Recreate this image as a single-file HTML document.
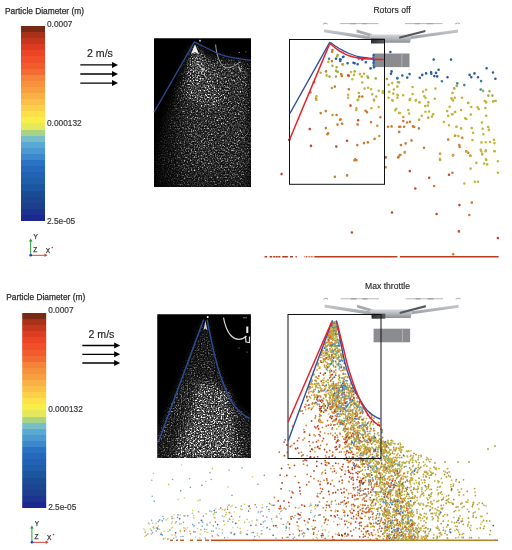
<!DOCTYPE html><html><head><meta charset="utf-8"><style>html,body{margin:0;padding:0;background:#fff;width:512px;height:550px;overflow:hidden}svg{display:block}text{font-family:"Liberation Sans",Arial,sans-serif}.lab{font-size:8.6px;fill:#2a2a2a;stroke:#2a2a2a;stroke-width:0.25px}.num{font-size:8.3px;fill:#3a3a3a;stroke:#3a3a3a;stroke-width:0.2px}.ax{font-size:6.5px;fill:#333;stroke:#333;stroke-width:0.25px}.ms{font-size:10.6px;fill:#1a1a1a;stroke:#1a1a1a;stroke-width:0.15px}.ttl{font-size:8.8px;fill:#2a2a2a;stroke:#2a2a2a;stroke-width:0.15px}</style></head><body><svg width="512" height="550" viewBox="0 0 512 550"><rect width="512" height="550" fill="#fff"/><g transform="translate(0,0)"><text x="5" y="13.7" class="lab" textLength="79" lengthAdjust="spacingAndGlyphs">Particle Diameter (m)</text><defs><linearGradient id="cb1" x1="0" y1="0" x2="0" y2="1"><stop offset="0.00000" stop-color="#7a2a12"/><stop offset="0.03125" stop-color="#7a2a12"/><stop offset="0.03125" stop-color="#a83218"/><stop offset="0.06250" stop-color="#a83218"/><stop offset="0.06250" stop-color="#c4361e"/><stop offset="0.09375" stop-color="#c4361e"/><stop offset="0.09375" stop-color="#dc3c21"/><stop offset="0.12500" stop-color="#dc3c21"/><stop offset="0.12500" stop-color="#ec4425"/><stop offset="0.15625" stop-color="#ec4425"/><stop offset="0.15625" stop-color="#f04f29"/><stop offset="0.18750" stop-color="#f04f29"/><stop offset="0.18750" stop-color="#f25c2d"/><stop offset="0.21875" stop-color="#f25c2d"/><stop offset="0.21875" stop-color="#f36a32"/><stop offset="0.25000" stop-color="#f36a32"/><stop offset="0.25000" stop-color="#f5843a"/><stop offset="0.28125" stop-color="#f5843a"/><stop offset="0.28125" stop-color="#f7923c"/><stop offset="0.31250" stop-color="#f7923c"/><stop offset="0.31250" stop-color="#f8a040"/><stop offset="0.34375" stop-color="#f8a040"/><stop offset="0.34375" stop-color="#f9b044"/><stop offset="0.37500" stop-color="#f9b044"/><stop offset="0.37500" stop-color="#fbc046"/><stop offset="0.40625" stop-color="#fbc046"/><stop offset="0.40625" stop-color="#fcd048"/><stop offset="0.43750" stop-color="#fcd048"/><stop offset="0.43750" stop-color="#fde04a"/><stop offset="0.46875" stop-color="#fde04a"/><stop offset="0.46875" stop-color="#f8ee48"/><stop offset="0.50000" stop-color="#f8ee48"/><stop offset="0.50000" stop-color="#e6e85c"/><stop offset="0.53125" stop-color="#e6e85c"/><stop offset="0.53125" stop-color="#a8d286"/><stop offset="0.56250" stop-color="#a8d286"/><stop offset="0.56250" stop-color="#78bec8"/><stop offset="0.59375" stop-color="#78bec8"/><stop offset="0.59375" stop-color="#5aa8d4"/><stop offset="0.62500" stop-color="#5aa8d4"/><stop offset="0.62500" stop-color="#4c98d0"/><stop offset="0.65625" stop-color="#4c98d0"/><stop offset="0.65625" stop-color="#3c88cc"/><stop offset="0.68750" stop-color="#3c88cc"/><stop offset="0.68750" stop-color="#2a72c4"/><stop offset="0.71875" stop-color="#2a72c4"/><stop offset="0.71875" stop-color="#2668bc"/><stop offset="0.75000" stop-color="#2668bc"/><stop offset="0.75000" stop-color="#2262b4"/><stop offset="0.78125" stop-color="#2262b4"/><stop offset="0.78125" stop-color="#1f5ea8"/><stop offset="0.81250" stop-color="#1f5ea8"/><stop offset="0.81250" stop-color="#1c56a0"/><stop offset="0.84375" stop-color="#1c56a0"/><stop offset="0.84375" stop-color="#1a4c94"/><stop offset="0.87500" stop-color="#1a4c94"/><stop offset="0.87500" stop-color="#1b458e"/><stop offset="0.90625" stop-color="#1b458e"/><stop offset="0.90625" stop-color="#1c3e8c"/><stop offset="0.93750" stop-color="#1c3e8c"/><stop offset="0.93750" stop-color="#1c3490"/><stop offset="0.96875" stop-color="#1c3490"/><stop offset="0.96875" stop-color="#1d2790"/><stop offset="1.00000" stop-color="#1d2790"/></linearGradient></defs><rect x="21" y="26" width="24" height="195" fill="url(#cb1)"/><text x="47" y="27.0" class="num">0.0007</text><text x="47" y="125.6" class="num">0.000132</text><text x="47" y="223.5" class="num">2.5e-05</text><line x1="30.7" y1="255.3" x2="30.7" y2="240" stroke="#2a9a3a" stroke-width="1"/><path d="M28.9 241.5 L30.7 238.5 L32.5 241.5Z" fill="#2a9a3a"/><line x1="30.7" y1="255.3" x2="45.5" y2="255.3" stroke="#d84030" stroke-width="1"/><path d="M44.5 253.6 L47.5 255.3 L44.5 257Z" fill="#d84030"/><circle cx="30.7" cy="255.3" r="1.3" fill="#1a3ad0"/><text x="33.6" y="239.1" class="ax">Y</text><text x="33.2" y="252.2" class="ax">Z</text><text x="45.8" y="252.6" class="ax">X</text><circle cx="52.3" cy="247.6" r="0.8" fill="#d03030"/></g><g transform="translate(1.2,287)"><text x="5" y="13.1" class="lab" textLength="79" lengthAdjust="spacingAndGlyphs">Particle Diameter (m)</text><defs><linearGradient id="cb2" x1="0" y1="0" x2="0" y2="1"><stop offset="0.00000" stop-color="#7a2a12"/><stop offset="0.03125" stop-color="#7a2a12"/><stop offset="0.03125" stop-color="#a83218"/><stop offset="0.06250" stop-color="#a83218"/><stop offset="0.06250" stop-color="#c4361e"/><stop offset="0.09375" stop-color="#c4361e"/><stop offset="0.09375" stop-color="#dc3c21"/><stop offset="0.12500" stop-color="#dc3c21"/><stop offset="0.12500" stop-color="#ec4425"/><stop offset="0.15625" stop-color="#ec4425"/><stop offset="0.15625" stop-color="#f04f29"/><stop offset="0.18750" stop-color="#f04f29"/><stop offset="0.18750" stop-color="#f25c2d"/><stop offset="0.21875" stop-color="#f25c2d"/><stop offset="0.21875" stop-color="#f36a32"/><stop offset="0.25000" stop-color="#f36a32"/><stop offset="0.25000" stop-color="#f5843a"/><stop offset="0.28125" stop-color="#f5843a"/><stop offset="0.28125" stop-color="#f7923c"/><stop offset="0.31250" stop-color="#f7923c"/><stop offset="0.31250" stop-color="#f8a040"/><stop offset="0.34375" stop-color="#f8a040"/><stop offset="0.34375" stop-color="#f9b044"/><stop offset="0.37500" stop-color="#f9b044"/><stop offset="0.37500" stop-color="#fbc046"/><stop offset="0.40625" stop-color="#fbc046"/><stop offset="0.40625" stop-color="#fcd048"/><stop offset="0.43750" stop-color="#fcd048"/><stop offset="0.43750" stop-color="#fde04a"/><stop offset="0.46875" stop-color="#fde04a"/><stop offset="0.46875" stop-color="#f8ee48"/><stop offset="0.50000" stop-color="#f8ee48"/><stop offset="0.50000" stop-color="#e6e85c"/><stop offset="0.53125" stop-color="#e6e85c"/><stop offset="0.53125" stop-color="#a8d286"/><stop offset="0.56250" stop-color="#a8d286"/><stop offset="0.56250" stop-color="#78bec8"/><stop offset="0.59375" stop-color="#78bec8"/><stop offset="0.59375" stop-color="#5aa8d4"/><stop offset="0.62500" stop-color="#5aa8d4"/><stop offset="0.62500" stop-color="#4c98d0"/><stop offset="0.65625" stop-color="#4c98d0"/><stop offset="0.65625" stop-color="#3c88cc"/><stop offset="0.68750" stop-color="#3c88cc"/><stop offset="0.68750" stop-color="#2a72c4"/><stop offset="0.71875" stop-color="#2a72c4"/><stop offset="0.71875" stop-color="#2668bc"/><stop offset="0.75000" stop-color="#2668bc"/><stop offset="0.75000" stop-color="#2262b4"/><stop offset="0.78125" stop-color="#2262b4"/><stop offset="0.78125" stop-color="#1f5ea8"/><stop offset="0.81250" stop-color="#1f5ea8"/><stop offset="0.81250" stop-color="#1c56a0"/><stop offset="0.84375" stop-color="#1c56a0"/><stop offset="0.84375" stop-color="#1a4c94"/><stop offset="0.87500" stop-color="#1a4c94"/><stop offset="0.87500" stop-color="#1b458e"/><stop offset="0.90625" stop-color="#1b458e"/><stop offset="0.90625" stop-color="#1c3e8c"/><stop offset="0.93750" stop-color="#1c3e8c"/><stop offset="0.93750" stop-color="#1c3490"/><stop offset="0.96875" stop-color="#1c3490"/><stop offset="0.96875" stop-color="#1d2790"/><stop offset="1.00000" stop-color="#1d2790"/></linearGradient></defs><rect x="21" y="26" width="24" height="195" fill="url(#cb2)"/><text x="47" y="26.0" class="num">0.0007</text><text x="47" y="124.6" class="num">0.000132</text><text x="47" y="222.5" class="num">2.5e-05</text><line x1="30.7" y1="255.3" x2="30.7" y2="240" stroke="#2a9a3a" stroke-width="1"/><path d="M28.9 241.5 L30.7 238.5 L32.5 241.5Z" fill="#2a9a3a"/><line x1="30.7" y1="255.3" x2="45.5" y2="255.3" stroke="#d84030" stroke-width="1"/><path d="M44.5 253.6 L47.5 255.3 L44.5 257Z" fill="#d84030"/><circle cx="30.7" cy="255.3" r="1.3" fill="#1a3ad0"/><text x="33.6" y="239.1" class="ax">Y</text><text x="33.2" y="252.2" class="ax">Z</text><text x="45.8" y="252.6" class="ax">X</text><circle cx="52.3" cy="247.6" r="0.8" fill="#d03030"/></g><text x="87" y="57" class="ms">2 m/s</text><line x1="80.3" y1="64.9" x2="113" y2="64.9" stroke="#000" stroke-width="1.3"/><path d="M112 61.900000000000006 L118 64.9 L112 67.9Z" fill="#000"/><line x1="80.3" y1="74" x2="113" y2="74" stroke="#000" stroke-width="1.3"/><path d="M112 71 L118 74 L112 77Z" fill="#000"/><line x1="80.3" y1="83.1" x2="113" y2="83.1" stroke="#000" stroke-width="1.3"/><path d="M112 80.1 L118 83.1 L112 86.1Z" fill="#000"/><text x="88.5" y="337.5" class="ms">2 m/s</text><line x1="82.3" y1="345.5" x2="115.2" y2="345.5" stroke="#000" stroke-width="1.3"/><path d="M114.2 342.5 L120.2 345.5 L114.2 348.5Z" fill="#000"/><line x1="82.3" y1="354.3" x2="115.2" y2="354.3" stroke="#000" stroke-width="1.3"/><path d="M114.2 351.3 L120.2 354.3 L114.2 357.3Z" fill="#000"/><line x1="82.3" y1="363" x2="115.2" y2="363" stroke="#000" stroke-width="1.3"/><path d="M114.2 360 L120.2 363 L114.2 366Z" fill="#000"/><text x="373.4" y="12.6" class="ttl" textLength="37.2" lengthAdjust="spacingAndGlyphs">Rotors off</text><g transform="translate(0,0)"><defs><linearGradient id="hubg0" x1="0" y1="0" x2="0" y2="1"><stop offset="0" stop-color="#d4d8dc"/><stop offset="0.5" stop-color="#b4b8bc"/><stop offset="1" stop-color="#8c9094"/></linearGradient><linearGradient id="armg0" x1="0" y1="0" x2="0" y2="1"><stop offset="0" stop-color="#c8ccd0"/><stop offset="1" stop-color="#9a9ea2"/></linearGradient><linearGradient id="shd0" x1="0" y1="0" x2="1" y2="0"><stop offset="0" stop-color="#2a2c2e"/><stop offset="1" stop-color="#5a5c60"/></linearGradient></defs><path d="M340 23.6H378.4M405 23.6H442.5" stroke="#b4b8bc" stroke-width="1"/><path d="M350 23.6h6M362 23.6h5M415 23.6h5M427 23.6h6" stroke="#a4a8ac" stroke-width="1.4"/><path d="M323 24.2l2-1.2l2.5 1" stroke="#888" stroke-width="0.8" fill="none"/><path d="M455 24l2.5-1l2.5 0.6" stroke="#999" stroke-width="0.8" fill="none"/><path d="M324 29.2L372 36.5L372 40L324 32.2Z" fill="url(#armg0)"/><path d="M356.5 29.5L372 34L372 37L356.5 32.5Z" fill="#a8acb0"/><path d="M411 36L458 29.5L458 32.5L411 39Z" fill="url(#armg0)"/><path d="M369.5 34.4H412L410 42.7H371.5Z" fill="url(#hubg0)"/><path d="M371 38.5H384.8V43.5H371Z" fill="url(#shd0)"/><path d="M400 37.5L424.5 31.2" stroke="#55585c" stroke-width="2.2" stroke-linecap="round"/><rect x="373" y="53.5" width="36.5" height="13.6" fill="#8a8c90"/><rect x="401.3" y="53.5" width="1" height="13.6" fill="#b0b2b6"/></g><path stroke="#cc7a30" stroke-width="2.60" stroke-linecap="round" fill="none" d="M332.5 50.0h0M332.1 51.7h0M331.9 61.1h0M326.0 71.4h0M341.3 74.2h0M341.8 75.7h0M334.8 86.6h0M310.5 92.5h0M316.0 98.6h0M341.2 74.3h0M341.8 76.0h0M348.8 76.0h0M348.8 89.3h0M359.3 96.6h0M362.3 96.6h0M374.0 99.8h0M320.7 113.1h0M325.8 111.1h0M336.6 115.0h0M340.1 119.7h0M337.5 124.6h0M342.2 123.7h0M325.8 128.1h0M327.4 134.2h0M328.1 133.4h0M365.5 110.8h0M367.0 112.3h0M340.6 119.3h0M342.1 123.7h0M357.6 124.4h0M371.0 122.3h0M380.4 117.3h0M388.0 126.7h0M391.6 126.4h0M399.2 126.7h0M399.2 131.9h0M357.3 145.1h0M364.0 143.1h0M367.9 142.4h0M374.6 138.9h0M355.2 159.2h0M398.0 157.4h0M403.3 121.1h0M407.1 122.5h0M410.0 121.7h0M400.3 126.7h0M404.1 126.7h0M413.0 126.4h0M414.2 127.0h0M418.9 128.4h0M399.2 131.9h0M448.2 139.6h0M411.5 140.4h0M405.6 143.4h0M400.9 145.1h0M424.0 147.8h0M404.8 152.5h0M399.8 155.1h0M440.0 153.7h0M453.1 155.1h0M440.0 159.2h0M462.3 137.7h0M459.3 145.1h0M459.6 146.9h0M466.3 151.3h0M468.2 152.7h0M470.2 155.7h0M452.9 155.3h0M354.5 160.2h0M356.5 160.2h0M334.9 176.7h0M347.1 175.4h0M385.7 167.3h0M398.6 156.9h0M400.4 155.0h0M434.1 186.0h0M452.5 172.8h0M471.8 202.6h0M469.3 215.0h0M453.2 254.2h0"/><path stroke="#9cae46" stroke-width="2.60" stroke-linecap="round" fill="none" d="M337.7 55.0h0M337.2 56.4h0M332.5 65.8h0M336.6 67.2h0M336.0 70.7h0M337.7 71.9h0M329.5 76.6h0M336.0 76.6h0M331.9 88.0h0M354.6 71.4h0M367.5 76.6h0M368.1 77.8h0M375.7 78.4h0M386.9 79.0h0M398.0 82.3h0M399.1 82.5h0M454.2 88.4h0M456.7 86.0h0M454.3 88.6h0M483.1 90.9h0M489.5 91.3h0M488.3 95.6h0M492.4 95.6h0"/><path stroke="#2a5aa2" stroke-width="2.60" stroke-linecap="round" fill="none" d="M343.0 57.0h0M336.0 58.8h0M340.0 59.3h0M340.3 60.9h0M343.5 56.7h0M340.6 59.6h0M347.6 63.2h0M353.5 62.8h0M354.6 63.2h0M357.6 64.3h0M358.8 58.5h0M362.3 59.6h0M365.8 62.3h0M370.5 68.4h0M390.4 52.0h0M391.6 71.4h0M391.0 73.7h0M433.7 59.6h0M451.0 59.6h0M397.3 78.0h0M402.3 75.5h0M407.3 77.6h0M409.6 74.1h0M419.8 77.8h0M422.2 74.9h0M426.1 73.4h0M431.1 72.2h0M431.3 73.7h0M436.0 72.9h0M438.6 69.8h0M434.3 76.1h0M437.2 76.4h0M447.5 77.2h0M486.6 68.2h0M493.0 72.5h0M495.4 78.8h0M469.6 74.9h0M474.5 73.4h0M471.3 77.2h0M478.0 77.2h0M373.6 55.2h0M373.8 60.2h0M373.5 62.8h0M374.0 67.2h0"/><path stroke="#3a80a0" stroke-width="2.60" stroke-linecap="round" fill="none" d="M329.0 58.8h0M397.4 78.4h0M441.9 81.3h0M481.1 81.1h0M457.3 83.4h0M464.3 85.1h0M480.7 89.5h0M373.4 57.6h0M373.7 65.3h0"/><path stroke="#c0b63a" stroke-width="2.60" stroke-linecap="round" fill="none" d="M328.4 61.7h0M320.7 72.8h0M326.6 75.4h0M316.6 96.3h0M342.3 64.3h0M351.1 72.0h0M354.0 74.9h0M352.3 79.3h0M359.9 74.1h0M361.7 76.6h0M364.0 73.7h0M362.3 82.5h0M364.6 88.6h0M368.1 87.8h0M371.0 89.3h0M378.7 90.7h0M382.8 91.3h0M382.8 93.0h0M348.2 94.8h0M348.2 97.7h0M358.8 93.0h0M358.2 99.5h0M372.2 94.2h0M376.3 96.6h0M388.6 84.8h0M392.2 83.1h0M397.4 86.6h0M393.9 89.5h0M389.2 91.9h0M393.3 93.6h0M397.4 94.8h0M388.6 97.7h0M392.2 100.0h0M397.4 97.7h0M397.3 86.6h0M412.6 87.0h0M435.4 88.6h0M426.1 89.8h0M423.1 91.6h0M397.9 95.2h0M403.2 95.2h0M412.6 94.0h0M424.3 96.3h0M425.5 97.7h0M410.2 98.7h0M409.6 100.1h0M416.1 100.1h0M419.6 102.4h0M428.4 102.4h0M434.8 98.7h0M452.4 93.0h0M451.3 98.3h0M453.0 100.0h0M452.6 93.0h0M454.9 97.7h0M462.0 97.7h0M452.6 100.0h0M468.4 103.0h0M484.8 101.0h0M486.0 102.4h0M493.0 101.5h0M495.6 100.7h0M316.4 100.0h0M356.4 108.4h0M356.2 110.0h0M371.4 108.2h0M378.7 107.0h0M374.0 100.6h0M357.6 100.2h0M392.7 100.6h0M395.1 110.3h0M396.3 108.8h0M399.2 112.9h0M409.7 100.2h0M415.6 100.6h0M419.3 102.3h0M428.2 102.3h0M425.2 106.1h0M427.9 105.6h0M408.3 110.0h0M400.1 113.1h0M409.1 113.5h0M425.5 111.7h0M429.1 111.5h0M433.2 114.3h0M432.0 116.6h0M421.7 115.8h0M453.1 100.6h0M449.6 106.8h0M447.2 111.1h0M455.2 112.0h0M451.9 114.3h0M448.2 115.8h0M443.9 122.0h0M449.0 125.2h0M456.4 126.7h0M468.2 102.9h0M485.4 101.2h0M486.2 102.3h0M493.3 101.4h0M495.6 100.9h0M471.3 107.0h0M477.5 107.3h0M478.7 109.1h0M485.4 108.0h0M461.1 110.0h0M454.9 112.0h0M452.6 114.3h0M470.8 114.6h0M486.2 115.8h0M465.1 118.2h0M466.3 119.0h0M481.9 122.5h0M456.5 126.7h0M461.1 128.4h0M471.7 128.1h0M482.7 128.7h0M488.3 127.0h0M488.9 129.9h0M473.1 132.8h0M483.4 134.2h0M454.9 135.7h0M458.4 136.1h0M472.5 140.1h0M481.5 142.4h0M485.8 142.2h0M490.1 142.0h0M494.0 139.8h0M494.4 143.1h0M480.7 149.8h0M485.8 150.2h0M494.8 151.3h0M482.2 153.9h0M486.0 159.2h0M440.1 153.7h0M440.1 159.9h0M453.2 155.5h0M466.9 152.0h0M470.6 155.5h0M476.3 162.9h0M470.6 168.6h0M464.4 183.5h0M474.8 181.8h0M478.0 181.8h0M481.3 151.2h0M485.5 151.2h0M482.2 154.5h0M486.2 159.9h0M484.2 163.6h0M487.2 164.4h0M494.2 151.2h0M497.9 161.2h0M497.9 172.8h0"/><path stroke="#cc9a36" stroke-width="2.60" stroke-linecap="round" fill="none" d="M343.0 64.4h0M332.5 115.0h0M377.3 125.8h0M379.3 136.1h0M428.2 117.6h0M419.1 119.7h0M403.3 117.0h0M455.2 135.7h0M404.8 152.0h0"/><path stroke="#c84a28" stroke-width="2.60" stroke-linecap="round" fill="none" d="M314.0 82.2h0M348.2 75.2h0M309.8 129.1h0M311.0 145.9h0M336.3 146.6h0M350.5 105.6h0M358.2 120.2h0M347.0 140.8h0M385.7 157.4h0M281.6 174.1h0M351.9 232.5h0M409.8 171.1h0M415.3 188.5h0M429.2 177.8h0M449.0 174.8h0M392.0 212.5h0M436.6 214.0h0M459.4 205.1h0M458.9 231.4h0M497.9 238.1h0"/><path stroke="#902818" stroke-width="2.60" stroke-linecap="round" fill="none" d="M289.3 139.8h0"/><path d="M264.6 256.8H267.1M269.6 256.8H272.2M273.2 256.8H275.2M275.7 256.8H277.8M278.3 256.8H280.3M282.3 256.8H287.9M290 256.8H293M295.5 256.8H296.8" stroke="#b83a1e" stroke-width="1.5"/><path d="M304.4 256.8H314.6" stroke="#c86040" stroke-width="1.5" stroke-dasharray="1 0.6"/><path d="M314.6 256.8H397.4M399.9 256.8H498.6" stroke="#b83c1e" stroke-width="1.6"/><rect x="289.5" y="39.5" width="95" height="144.8" fill="none" stroke="#111" stroke-width="1"/><path d="M289.8 113.6L329.6 42.6L331.4 43C332.2 43.6 334.7 45.6 336.5 46.8C338.3 48.0 340.2 49.1 342.3 50.2C344.4 51.3 346.2 52.4 349.2 53.5C352.2 54.6 356.2 56.2 360.1 57.0C364.0 57.8 370.2 58.1 372.4 58.4C374.6 58.6 373.3 58.5 373.5 58.5" fill="none" stroke="#3150a0" stroke-width="1.3"/><path d="M289.7 139.3L329.7 43.6L331.4 44.7C332.2 45.4 334.7 47.6 336.5 48.9C338.3 50.2 340.2 51.4 342.3 52.5C344.4 53.6 346.2 54.8 349.2 55.8C352.2 56.8 356.7 57.8 360.1 58.3C363.5 58.8 365.8 58.9 369.7 59.1C373.6 59.3 381.3 59.5 383.6 59.6" fill="none" stroke="#e82228" stroke-width="1.5"/><text x="365" y="289" class="ttl" textLength="45" lengthAdjust="spacingAndGlyphs">Max throttle</text><g transform="translate(0.6,275.2)"><defs><linearGradient id="hubg275" x1="0" y1="0" x2="0" y2="1"><stop offset="0" stop-color="#d4d8dc"/><stop offset="0.5" stop-color="#b4b8bc"/><stop offset="1" stop-color="#8c9094"/></linearGradient><linearGradient id="armg275" x1="0" y1="0" x2="0" y2="1"><stop offset="0" stop-color="#c8ccd0"/><stop offset="1" stop-color="#9a9ea2"/></linearGradient><linearGradient id="shd275" x1="0" y1="0" x2="1" y2="0"><stop offset="0" stop-color="#2a2c2e"/><stop offset="1" stop-color="#5a5c60"/></linearGradient></defs><path d="M340 23.6H378.4M405 23.6H442.5" stroke="#b4b8bc" stroke-width="1"/><path d="M350 23.6h6M362 23.6h5M415 23.6h5M427 23.6h6" stroke="#a4a8ac" stroke-width="1.4"/><path d="M323 24.2l2-1.2l2.5 1" stroke="#888" stroke-width="0.8" fill="none"/><path d="M455 24l2.5-1l2.5 0.6" stroke="#999" stroke-width="0.8" fill="none"/><path d="M324 29.2L372 36.5L372 40L324 32.2Z" fill="url(#armg275)"/><path d="M356.5 29.5L372 34L372 37L356.5 32.5Z" fill="#a8acb0"/><path d="M411 36L458 29.5L458 32.5L411 39Z" fill="url(#armg275)"/><path d="M369.5 34.4H412L410 42.7H371.5Z" fill="url(#hubg275)"/><path d="M371 38.5H384.8V43.5H371Z" fill="url(#shd275)"/><path d="M400 37.5L424.5 31.2" stroke="#55585c" stroke-width="2.2" stroke-linecap="round"/><rect x="373" y="53.5" width="36.5" height="13.6" fill="#8a8c90"/><rect x="401.3" y="53.5" width="1" height="13.6" fill="#b0b2b6"/></g><path stroke="#d89050" stroke-width="1.60" stroke-linecap="round" fill="none" d="M198.6 511.9h0M301.7 530.8h0M335.2 511.7h0M227.6 507.0h0M318.5 531.3h0M147.8 534.1h0M163.4 539.0h0M179.8 524.1h0M250.1 508.6h0M327.2 524.8h0M230.0 513.0h0M335.8 510.2h0M234.2 534.8h0M218.5 535.8h0M303.6 536.8h0"/><path stroke="#6ea4d0" stroke-width="1.60" stroke-linecap="round" fill="none" d="M294.6 537.2h0M207.0 525.1h0M295.0 515.5h0M202.3 526.3h0M228.0 521.2h0M269.8 529.4h0M302.2 533.9h0M159.8 519.9h0M163.6 518.7h0M205.3 538.1h0M198.9 522.9h0M272.7 505.2h0M235.8 507.3h0M273.4 535.2h0M209.9 511.1h0M145.3 532.2h0M172.0 518.6h0M254.7 536.5h0M266.8 517.1h0M256.9 520.0h0M298.3 518.9h0M162.9 516.5h0M258.2 512.0h0M266.7 528.0h0M263.5 521.9h0M222.5 533.0h0M152.5 532.6h0M340.4 504.3h0M286.1 526.2h0M216.1 512.4h0M321.7 537.3h0M210.0 472.7h0M202.0 485.5h0M264.3 475.4h0M289.5 490.7h0M201.8 485.4h0"/><path stroke="#70b4bc" stroke-width="1.60" stroke-linecap="round" fill="none" d="M293.3 538.6h0M260.4 512.0h0M331.4 504.4h0M159.3 520.3h0M217.3 534.7h0M183.0 536.5h0M216.2 528.3h0M222.3 516.0h0M157.6 527.9h0M151.6 520.3h0M210.1 522.2h0M232.7 521.9h0M280.8 511.6h0M153.3 527.6h0M242.0 509.5h0M314.4 516.7h0M293.8 517.8h0M310.3 505.1h0M286.6 527.2h0M261.8 530.7h0M279.9 509.2h0M248.9 506.6h0M211.6 531.1h0M173.7 538.3h0M239.7 516.7h0M318.1 504.9h0M292.0 491.4h0M229.1 470.1h0M172.6 479.5h0M242.1 467.9h0M152.2 496.2h0M211.2 479.5h0M189.5 478.8h0"/><path stroke="#80b0d4" stroke-width="1.60" stroke-linecap="round" fill="none" d="M261.9 511.3h0M338.4 517.8h0M148.5 523.3h0M181.0 536.7h0M256.5 507.3h0M311.4 505.3h0M276.1 538.2h0M329.2 505.5h0M176.0 537.1h0M151.6 530.4h0M265.0 521.0h0M301.0 512.5h0M322.9 534.0h0M172.1 516.8h0M280.5 505.6h0M336.4 504.3h0M312.6 528.8h0M335.8 534.1h0M200.0 500.1h0M151.8 480.3h0"/><path stroke="#ccc058" stroke-width="1.60" stroke-linecap="round" fill="none" d="M213.9 517.2h0M195.5 537.3h0M224.1 516.7h0M274.7 505.1h0M219.2 528.8h0M175.2 535.1h0M277.0 517.4h0M230.1 519.6h0M321.8 526.1h0M179.5 519.2h0M153.5 526.7h0M214.8 517.9h0M225.2 509.6h0M206.1 513.9h0M334.0 515.5h0M331.2 502.8h0M168.1 531.4h0M161.2 532.9h0M261.9 508.0h0M317.3 538.8h0M325.1 521.8h0M305.4 525.0h0M307.5 521.6h0M257.4 533.3h0M152.7 523.3h0M298.1 529.1h0M172.1 522.1h0M175.2 523.3h0M193.9 517.9h0M311.2 510.2h0M224.7 510.3h0M167.8 518.5h0M172.1 534.9h0M222.5 509.7h0M193.7 515.3h0M299.7 534.2h0M262.7 507.7h0M313.2 538.9h0M224.4 524.8h0M226.2 512.6h0M301.1 517.4h0M201.9 521.0h0M333.6 521.6h0M279.5 513.7h0M311.9 526.2h0M335.5 510.3h0M315.0 515.4h0M247.0 519.4h0M180.7 531.7h0M315.1 508.8h0M183.9 527.9h0M326.3 504.8h0M213.6 514.5h0M180.1 530.4h0M317.1 534.9h0M200.1 534.1h0M304.3 505.6h0M231.0 506.8h0M322.7 530.3h0M329.0 532.1h0M261.6 524.6h0M151.4 533.9h0M153.4 473.2h0M205.7 481.5h0M212.4 468.6h0M168.6 484.4h0"/><path stroke="#d8cc70" stroke-width="1.60" stroke-linecap="round" fill="none" d="M298.3 508.2h0M261.3 533.9h0M214.1 513.7h0M314.5 506.5h0M339.7 518.9h0M233.0 519.2h0M269.1 511.4h0M263.5 526.7h0M158.4 525.9h0M232.2 505.8h0M316.5 506.0h0M219.0 509.2h0M285.8 530.5h0M249.2 522.1h0M281.9 510.4h0M153.9 528.6h0M227.9 537.5h0M251.3 533.0h0M254.1 539.2h0M173.9 514.8h0M149.5 524.3h0M238.9 520.5h0M143.8 529.0h0M262.4 504.8h0M247.6 530.5h0M215.8 508.9h0M207.8 532.3h0M298.8 526.6h0M186.1 529.6h0M240.7 531.6h0M181.2 523.6h0M272.2 521.5h0M165.1 538.4h0M172.7 527.3h0M199.5 538.0h0M185.2 528.2h0M236.8 523.3h0M289.5 529.8h0M233.0 527.8h0M173.9 518.3h0M209.9 523.0h0M234.4 512.0h0M277.2 527.6h0M310.8 503.2h0M164.2 531.2h0M284.8 476.5h0M178.1 499.6h0M198.1 500.6h0M184.4 498.0h0M181.6 465.0h0M228.0 486.9h0M252.4 476.7h0"/><path stroke="#d48040" stroke-width="1.60" stroke-linecap="round" fill="none" d="M338.7 533.1h0M190.5 533.8h0M337.8 534.5h0M229.4 519.1h0M326.5 507.6h0M229.2 512.2h0M249.2 506.3h0M344.5 510.8h0M276.8 516.0h0M341.9 539.5h0M297.9 525.7h0M279.2 508.5h0M289.3 528.0h0M293.2 534.1h0M146.2 535.2h0M200.9 529.7h0M283.2 524.5h0M325.5 510.5h0M156.2 531.0h0M303.4 532.9h0M315.3 520.6h0M177.6 517.6h0"/><path stroke="#5c98c8" stroke-width="1.60" stroke-linecap="round" fill="none" d="M289.2 506.1h0M310.7 512.3h0M202.7 522.3h0M213.2 531.3h0M162.2 520.9h0M156.3 528.0h0M241.3 506.0h0M223.8 521.1h0M192.7 524.6h0M318.6 515.2h0M178.0 514.9h0M169.9 530.0h0M213.4 525.8h0M187.8 515.7h0M204.6 529.3h0M229.0 505.1h0M271.6 519.0h0M203.4 516.1h0M304.6 533.3h0M344.7 516.0h0M328.0 505.2h0M281.1 518.9h0M158.3 521.6h0M266.8 506.7h0M167.7 539.0h0M183.4 522.3h0M224.6 537.8h0M269.5 503.6h0M194.0 525.9h0M162.3 534.9h0M267.3 527.5h0M184.4 515.8h0M273.7 505.4h0M195.1 532.0h0M176.1 521.9h0M232.0 495.3h0M154.2 501.3h0M180.7 490.8h0M190.4 487.3h0M257.9 484.2h0"/><path stroke="#d4c860" stroke-width="1.60" stroke-linecap="round" fill="none" d="M204.7 531.8h0M270.8 504.4h0M237.5 527.4h0M187.5 527.7h0M240.6 508.8h0M297.3 513.3h0M325.1 529.5h0M180.2 515.1h0M330.7 510.5h0M316.3 537.6h0M257.4 535.4h0M241.2 533.0h0M192.6 510.5h0M344.8 536.8h0M144.9 536.5h0M271.8 505.8h0M246.3 534.3h0M233.8 534.1h0M206.7 529.6h0M286.8 523.7h0M225.8 514.8h0M156.1 523.4h0M184.0 516.0h0M276.2 517.3h0M171.8 528.0h0M145.5 532.2h0M150.3 529.1h0M185.3 515.5h0M240.1 528.4h0M207.2 532.5h0M343.9 505.0h0M309.6 506.4h0M298.4 529.7h0M171.5 523.8h0M171.9 516.7h0M244.5 504.3h0M144.9 530.0h0M339.8 524.2h0M189.9 531.4h0M325.6 530.7h0M338.0 511.1h0M299.5 507.8h0M197.4 528.5h0M252.1 521.0h0M284.6 507.3h0"/><path stroke="#c85a3a" stroke-width="1.60" stroke-linecap="round" fill="none" d="M201.6 520.5h0M292.1 516.4h0M212.3 536.0h0M279.0 508.5h0M220.7 508.0h0M227.6 509.3h0M184.5 530.9h0M284.1 508.2h0M263.2 516.0h0M256.0 525.1h0M255.1 504.7h0M299.6 518.8h0M193.7 531.8h0M215.4 522.1h0"/><path stroke="#3c70b4" stroke-width="1.60" stroke-linecap="round" fill="none" d="M287.9 537.3h0M308.2 529.4h0M201.3 520.2h0M315.6 505.1h0M253.1 532.5h0M235.6 523.4h0M248.6 511.1h0M285.9 509.0h0M250.9 525.4h0M260.7 524.2h0M315.5 527.5h0M247.2 534.4h0M157.8 529.1h0M175.7 532.9h0M231.6 516.3h0M231.1 532.9h0M161.0 534.4h0M214.3 510.6h0M286.2 528.1h0M269.0 509.5h0M234.7 534.1h0M273.1 535.3h0M307.4 528.7h0M249.2 506.0h0M217.6 524.6h0M179.7 518.6h0"/><path stroke="#a8c870" stroke-width="1.60" stroke-linecap="round" fill="none" d="M222.3 529.6h0M211.5 511.6h0M286.2 537.5h0M192.4 513.2h0M214.5 512.5h0M168.1 538.7h0M159.4 529.2h0M314.6 527.4h0M256.7 520.0h0M304.0 535.2h0M207.2 524.1h0M328.1 536.0h0M261.8 533.9h0M240.3 533.4h0M225.7 514.6h0M166.1 519.9h0M244.6 522.4h0M259.2 537.1h0"/><path stroke="#c85430" stroke-width="1.76" stroke-linecap="round" fill="none" d="M321.2 354.9h0M341.7 385.4h0M326.0 357.9h0M321.9 390.7h0M337.7 390.7h0M342.8 392.2h0M322.9 350.4h0M329.2 403.7h0M334.1 377.3h0M332.4 332.1h0M331.8 352.1h0M319.5 391.9h0M326.3 410.4h0M331.3 332.1h0M335.3 342.8h0M331.5 333.5h0M332.3 325.8h0M342.9 370.2h0M333.5 350.7h0M331.9 330.8h0M332.0 351.5h0M335.6 325.9h0M332.4 356.9h0M315.2 380.4h0M333.5 356.9h0M319.5 408.6h0M311.4 409.4h0M385.8 526.6h0M374.5 484.5h0M374.3 440.7h0M397.1 528.4h0M361.8 441.7h0M376.1 522.8h0M364.4 424.6h0M379.1 462.8h0M366.7 495.9h0M404.2 498.9h0M368.8 481.5h0M381.6 442.8h0M346.4 389.1h0M339.2 390.8h0M346.4 442.7h0M382.5 477.5h0M407.1 480.2h0M358.8 449.7h0M340.5 409.6h0M339.3 397.2h0M391.0 465.8h0M413.6 530.8h0M330.9 415.9h0M388.9 518.2h0M355.8 411.0h0M358.2 422.0h0M380.4 482.7h0M359.6 403.5h0M354.1 403.5h0M401.6 532.0h0M395.7 511.1h0M390.0 471.4h0M384.6 483.5h0M366.8 442.1h0M385.9 501.0h0M380.6 475.2h0M388.9 515.6h0M342.0 394.3h0M320.3 431.8h0M350.2 447.9h0M285.1 439.8h0M361.4 525.8h0M352.7 473.6h0M352.3 467.7h0M368.7 511.8h0M319.0 421.3h0M347.1 446.5h0M360.5 482.8h0M348.9 472.1h0M352.5 495.5h0M345.3 503.8h0M350.7 531.2h0M360.2 517.3h0M344.7 459.1h0M372.7 535.4h0M365.1 536.2h0M327.5 420.6h0M335.5 437.1h0M353.1 484.4h0M370.2 497.6h0M368.6 493.5h0M359.2 493.3h0M356.6 498.9h0M372.5 514.1h0M355.8 465.7h0M327.5 483.6h0M355.7 527.8h0M314.7 426.7h0M317.8 446.4h0M334.9 439.2h0M317.7 505.6h0M366.4 501.1h0M332.4 427.9h0M284.1 442.1h0M329.7 450.4h0M363.4 537.1h0M303.0 455.0h0M351.4 478.9h0M355.6 522.0h0M382.7 534.0h0M343.2 464.3h0M289.8 534.6h0M322.2 533.7h0M339.3 481.4h0M329.1 505.4h0M312.8 403.0h0M298.2 513.9h0M290.3 446.6h0M341.1 502.3h0M357.5 486.9h0M300.5 493.8h0M328.3 425.2h0M279.3 452.1h0M312.4 449.3h0M350.1 437.2h0M320.9 415.7h0M297.1 522.2h0M334.7 437.1h0M330.7 424.4h0M301.9 505.0h0M345.4 437.4h0M351.5 518.1h0M295.4 448.3h0M317.9 400.9h0M363.3 534.3h0M377.7 509.0h0M326.2 426.1h0M363.3 490.6h0M323.6 498.1h0M320.1 435.9h0M321.7 402.3h0M310.8 476.3h0"/><path stroke="#b09c38" stroke-width="1.76" stroke-linecap="round" fill="none" d="M353.8 397.2h0M319.6 385.3h0M331.8 342.4h0M331.2 346.2h0M330.0 364.9h0M330.5 337.2h0M318.6 363.5h0M344.7 384.9h0M328.2 359.4h0M333.1 323.0h0M328.3 366.5h0M322.1 352.5h0M332.9 362.8h0M333.6 323.4h0M329.1 334.7h0M335.1 322.0h0M342.1 356.5h0M346.5 386.8h0M327.9 379.9h0M335.0 354.2h0M329.8 336.0h0M329.7 370.7h0M327.0 352.2h0M331.5 385.7h0M316.4 395.4h0M313.4 390.9h0M333.5 385.2h0M331.3 338.2h0M344.0 383.0h0M356.9 409.1h0M331.3 356.4h0M332.3 325.0h0M324.5 366.8h0M336.4 342.2h0M310.9 387.8h0M338.6 408.0h0M332.7 323.4h0M326.4 400.1h0M308.4 399.8h0M323.1 362.4h0M340.8 350.3h0M330.0 387.1h0M326.0 342.7h0M334.9 349.2h0M332.9 339.4h0M334.5 327.7h0M328.2 344.6h0M332.2 385.5h0M333.4 330.3h0M343.8 374.0h0M334.2 333.0h0M333.7 385.7h0M323.9 382.6h0M335.7 330.7h0M332.8 322.8h0M316.0 385.7h0M329.0 333.8h0M351.1 402.1h0M332.2 326.3h0M337.7 411.2h0M335.1 340.7h0M333.3 381.6h0M333.9 325.5h0M338.1 399.1h0M352.4 400.7h0M330.6 351.9h0M349.0 395.9h0M333.0 330.0h0M340.7 355.5h0M336.0 331.2h0M337.4 358.2h0M331.0 335.4h0M329.6 342.8h0M300.8 410.8h0M332.5 332.3h0M341.0 370.8h0M349.4 403.3h0M332.3 344.9h0M350.3 400.2h0M354.2 400.5h0M323.8 361.1h0M328.7 355.6h0M319.3 404.5h0M312.0 383.8h0M323.6 353.4h0M325.3 409.7h0M410.9 515.8h0M358.0 430.9h0M364.9 432.6h0M379.7 458.7h0M406.7 537.0h0M373.9 487.2h0M413.5 504.6h0M406.2 491.0h0M362.6 463.4h0M346.4 410.9h0M386.1 452.6h0M372.0 511.8h0M379.5 485.3h0M402.6 527.2h0M382.4 430.0h0M360.6 457.6h0M384.3 512.5h0M356.9 453.1h0M329.8 417.2h0M333.7 388.2h0M370.1 449.5h0M386.2 501.7h0M386.0 445.0h0M369.5 436.6h0M370.0 438.8h0M380.2 504.5h0M367.3 449.0h0M373.3 458.4h0M401.6 485.2h0M351.2 444.6h0M388.9 510.8h0M368.2 491.6h0M348.8 438.1h0M402.8 533.6h0M391.7 500.4h0M386.6 483.5h0M403.0 537.5h0M381.4 499.1h0M375.9 472.1h0M384.8 478.7h0M363.9 408.2h0M362.2 441.6h0M353.8 437.6h0M379.1 462.9h0M407.1 523.9h0M374.3 526.8h0M390.7 491.4h0M408.6 516.9h0M418.4 536.7h0M388.5 520.6h0M378.9 517.5h0M382.0 430.9h0M349.9 423.8h0M397.9 505.0h0M388.6 483.6h0M369.2 463.6h0M402.7 528.6h0M375.3 504.9h0M371.9 490.3h0M349.2 446.9h0M378.9 435.5h0M344.2 422.8h0M413.9 523.3h0M354.0 439.8h0M377.0 471.2h0M349.3 385.6h0M335.5 409.3h0M370.0 413.6h0M384.3 508.7h0M350.1 432.7h0M369.3 483.6h0M367.3 476.2h0M389.2 526.6h0M382.9 455.6h0M388.1 482.6h0M413.8 515.1h0M389.1 512.1h0M373.0 500.5h0M390.9 516.3h0M377.8 454.9h0M400.6 522.6h0M336.6 395.2h0M373.3 437.3h0M357.3 456.2h0M366.7 458.0h0M343.2 430.1h0M373.6 523.3h0M393.7 501.1h0M343.8 393.0h0M405.1 537.9h0M362.8 505.4h0M383.1 533.6h0M344.5 442.9h0M348.4 438.2h0M394.5 514.7h0M401.1 506.5h0M370.6 454.7h0M338.9 387.8h0M379.4 477.8h0M406.8 539.1h0M359.4 402.7h0M382.8 479.9h0M372.1 447.4h0M403.3 482.6h0M369.4 482.3h0M340.2 390.6h0M346.6 392.3h0M355.3 458.4h0M391.8 489.8h0M354.7 438.7h0M385.3 467.6h0M392.3 517.6h0M382.4 498.9h0M372.5 454.3h0M372.5 526.1h0M385.6 469.4h0M358.2 435.5h0M360.0 433.7h0M379.8 468.9h0M390.3 494.7h0M339.4 407.5h0M410.5 529.3h0M402.6 524.5h0M374.7 472.1h0M394.3 462.1h0M347.8 416.5h0M367.9 526.3h0M330.0 398.1h0M411.9 520.2h0M379.4 491.8h0M364.2 448.9h0M396.6 492.8h0M365.8 489.0h0M398.1 539.3h0M401.0 492.7h0M335.7 403.7h0M390.2 479.4h0M334.2 405.7h0M409.4 504.3h0M337.4 423.2h0M387.2 492.1h0M402.7 520.3h0M387.6 459.6h0M352.1 387.6h0M357.3 439.3h0M396.5 510.3h0M409.3 512.5h0M406.4 496.3h0M398.5 499.3h0M340.3 386.4h0M407.2 514.8h0M406.1 515.9h0M345.4 388.4h0M373.1 438.2h0M396.5 470.2h0M380.0 536.4h0M402.9 487.3h0M344.5 431.7h0M394.3 464.7h0M337.8 392.0h0M390.2 513.7h0M349.2 432.6h0M408.8 494.3h0M366.6 446.8h0M376.6 491.9h0M381.6 510.3h0M383.9 451.7h0M348.7 393.1h0M361.3 464.2h0M381.1 460.5h0M378.8 422.7h0M394.2 510.0h0M364.8 439.7h0M387.1 471.2h0M399.1 513.2h0M337.3 424.2h0M397.5 501.4h0M329.7 397.8h0M403.1 513.1h0M374.0 418.2h0M403.3 519.9h0M386.0 502.4h0M384.4 528.1h0M365.8 446.7h0M352.7 412.7h0M333.3 393.9h0M339.2 414.6h0M403.3 533.1h0M370.5 439.7h0M393.1 479.0h0M387.3 478.9h0M388.6 472.8h0M374.0 438.8h0M352.2 401.7h0M375.7 440.3h0M392.7 469.8h0M360.2 437.6h0M378.4 461.7h0M381.1 466.2h0M332.7 402.7h0M389.1 510.2h0M355.6 414.3h0M375.7 478.9h0M408.3 503.4h0M402.4 515.9h0M356.4 412.5h0M373.7 422.4h0M349.5 396.2h0M389.5 536.0h0M373.7 449.6h0M383.3 538.8h0M403.4 485.6h0M371.9 495.1h0M383.7 470.1h0M347.8 428.9h0M384.6 456.6h0M338.8 407.8h0M348.3 414.1h0M335.9 408.4h0M391.0 526.7h0M356.8 406.5h0M327.4 401.2h0M343.6 429.1h0M370.8 466.2h0M357.7 414.1h0M413.0 539.4h0M369.9 438.3h0M370.1 418.3h0M387.2 468.5h0M372.8 466.1h0M357.1 439.4h0M335.9 420.5h0M393.7 462.9h0M345.5 431.1h0M398.7 534.1h0M372.7 469.1h0M357.6 401.8h0M346.3 453.1h0M388.8 477.4h0M360.2 433.8h0M333.1 413.1h0M337.5 410.1h0M398.2 539.0h0M382.3 488.3h0M375.8 493.6h0M371.4 415.2h0M384.3 452.8h0M346.0 435.0h0M386.0 473.1h0M347.5 445.7h0M346.0 406.4h0M378.3 464.3h0M348.5 413.7h0M349.3 392.2h0M354.7 425.6h0M347.3 389.4h0M354.7 421.2h0M326.6 444.7h0M325.3 470.2h0M332.7 435.5h0M320.1 448.8h0M335.4 500.7h0M309.9 445.7h0M301.4 452.2h0M348.9 522.3h0M349.2 481.8h0M336.3 473.1h0M323.9 517.0h0M349.4 457.1h0M424.2 479.9h0M424.9 472.2h0M454.5 522.7h0M473.6 502.5h0M396.4 473.6h0M437.6 516.6h0M458.9 518.8h0M462.1 502.9h0M430.2 506.4h0M408.0 471.6h0M391.3 462.3h0M430.4 530.4h0M447.3 537.8h0M396.3 448.0h0M390.0 454.3h0M396.5 478.7h0M415.9 529.7h0M399.1 465.5h0M437.2 536.5h0M400.4 481.5h0M400.4 446.8h0M388.9 443.5h0M400.2 494.8h0M408.6 504.3h0M414.1 453.4h0M399.7 464.2h0M410.7 473.9h0M423.4 474.5h0M420.9 528.1h0M426.6 535.5h0M393.9 449.2h0M424.8 472.0h0M453.2 485.9h0M459.7 534.5h0M468.5 518.2h0M423.6 504.9h0M456.2 507.2h0M463.5 479.8h0M412.2 514.0h0M452.9 503.3h0M490.4 530.6h0M400.6 451.4h0M389.4 452.2h0M406.0 477.5h0M454.2 511.6h0M422.0 494.1h0M413.8 504.5h0M426.3 537.9h0M384.4 443.0h0M437.3 537.8h0M414.5 502.7h0M428.5 486.5h0M441.4 491.9h0M414.4 474.2h0M458.0 506.8h0M435.5 468.8h0M400.6 444.7h0M460.1 515.8h0M403.8 473.3h0M439.2 529.9h0M438.3 500.8h0M436.0 515.1h0M474.6 488.6h0M419.2 462.7h0M432.3 507.9h0M472.3 506.5h0M402.0 447.3h0M428.1 502.8h0M416.6 532.6h0M391.1 440.6h0M402.6 501.7h0M429.9 461.7h0M389.8 449.6h0M432.7 513.5h0M419.7 468.4h0M426.4 477.0h0M381.4 441.9h0M382.0 449.4h0M415.2 502.2h0M483.6 520.4h0M409.2 463.1h0M463.6 533.6h0M378.7 441.3h0M441.1 534.5h0M426.6 472.4h0M459.2 522.8h0M473.2 517.1h0M453.8 499.5h0M450.7 529.1h0M411.0 533.8h0M412.5 521.2h0M440.7 512.0h0M440.3 493.1h0M412.8 457.6h0M466.2 501.8h0M378.4 440.8h0M480.3 528.0h0M463.3 524.4h0M468.9 511.7h0M459.1 492.2h0M391.5 440.3h0M417.1 537.5h0M401.7 457.5h0M434.1 467.2h0M430.8 496.4h0M390.7 458.4h0M414.0 522.7h0M395.2 475.2h0M409.2 461.9h0M408.8 523.2h0M464.0 506.4h0M441.2 505.5h0M423.0 493.7h0M407.6 481.3h0M403.6 462.4h0M382.2 454.0h0M410.9 469.3h0M402.3 500.0h0M430.8 475.2h0M412.4 516.9h0M412.4 479.9h0M398.0 457.3h0M443.2 516.2h0M430.9 501.7h0M489.7 521.1h0M406.7 503.4h0M413.1 512.1h0M442.7 508.1h0M458.0 462.0h0M445.0 462.0h0"/><path stroke="#a89a34" stroke-width="1.76" stroke-linecap="round" fill="none" d="M330.1 333.1h0M338.6 350.5h0M323.7 390.8h0M335.6 367.2h0M315.2 389.4h0M330.0 358.6h0M337.3 334.1h0M332.0 329.2h0M330.2 392.3h0M312.4 403.4h0M316.2 380.6h0M334.3 345.6h0M313.8 391.3h0M333.0 338.2h0M335.2 340.5h0M327.6 364.2h0M346.6 407.4h0M328.1 382.6h0M337.0 341.2h0M333.4 360.8h0M329.9 358.8h0M334.7 332.9h0M339.8 345.7h0M338.1 351.1h0M331.5 326.5h0M325.7 359.3h0M337.1 339.4h0M322.3 385.2h0M361.9 404.4h0M334.3 346.6h0M333.1 322.8h0M359.2 404.3h0M339.3 393.3h0M331.1 358.8h0M329.7 331.3h0M328.0 337.3h0M328.3 335.9h0M343.9 368.5h0M324.2 404.1h0M334.2 323.6h0M332.1 361.3h0M332.5 349.1h0M345.8 396.6h0M335.2 396.5h0M340.4 361.3h0M352.4 410.7h0M331.6 361.5h0M349.9 402.4h0M323.9 408.1h0M333.6 333.5h0M339.2 375.2h0M334.1 326.4h0M329.0 340.5h0M333.9 353.5h0M306.7 397.8h0M335.9 329.6h0M329.1 335.3h0M323.8 380.3h0M359.7 408.0h0M313.7 374.7h0M318.0 387.8h0M317.0 383.4h0M344.0 383.4h0M326.9 349.1h0M333.8 387.9h0M326.2 381.4h0M326.6 365.9h0M335.5 354.2h0M339.0 340.4h0M338.1 397.2h0M329.9 372.6h0M336.8 348.1h0M332.9 327.2h0M335.5 322.6h0M334.6 322.2h0M336.2 355.3h0M333.4 335.9h0M331.8 339.0h0M325.5 352.4h0M352.5 411.8h0M325.2 406.0h0M318.6 383.4h0M335.6 366.4h0M335.2 324.8h0M314.7 384.0h0M331.5 357.5h0M333.1 323.3h0M325.5 343.3h0M330.0 333.9h0M336.5 342.8h0M327.8 337.1h0M366.6 494.8h0M395.6 529.8h0M331.3 407.8h0M378.2 486.3h0M373.6 467.4h0M384.7 464.7h0M379.8 483.7h0M378.0 432.8h0M347.8 398.5h0M423.1 536.9h0M356.7 437.0h0M361.1 482.8h0M349.7 418.3h0M356.3 435.8h0M364.4 431.1h0M403.0 539.2h0M405.7 534.1h0M362.4 470.1h0M388.0 443.0h0M398.2 464.6h0M382.9 449.8h0M347.1 419.4h0M387.7 458.7h0M324.1 408.2h0M369.0 476.0h0M396.9 513.4h0M339.9 416.3h0M376.8 461.5h0M365.1 526.7h0M371.7 444.0h0M323.6 403.7h0M397.3 509.2h0M340.8 402.7h0M357.3 414.4h0M397.1 520.9h0M415.0 523.4h0M344.3 398.2h0M335.4 415.7h0M383.4 501.0h0M342.1 393.1h0M367.6 427.0h0M400.5 523.4h0M383.6 476.3h0M408.8 529.4h0M400.4 505.8h0M342.9 409.8h0M347.4 410.9h0M377.8 492.5h0M398.2 506.0h0M343.7 409.6h0M386.3 516.0h0M350.6 428.2h0M387.6 509.6h0M376.8 475.2h0M389.0 513.4h0M404.4 491.3h0M376.6 453.6h0M382.9 513.6h0M367.4 431.4h0M340.8 406.9h0M375.3 471.2h0M387.6 452.4h0M365.7 436.2h0M369.4 466.1h0M344.5 386.7h0M343.2 424.4h0M336.4 406.8h0M346.0 438.2h0M370.8 460.0h0M380.9 488.5h0M357.5 433.6h0M346.3 407.5h0M387.1 467.8h0M393.2 522.8h0M342.6 436.7h0M373.6 467.6h0M349.7 413.7h0M346.3 424.0h0M338.4 395.7h0M383.4 453.4h0M387.8 514.9h0M413.5 522.6h0M351.8 425.5h0M385.2 526.1h0M388.0 465.8h0M332.6 394.6h0M382.8 499.4h0M370.6 448.6h0M342.8 407.9h0M333.5 403.3h0M390.7 500.5h0M351.1 405.0h0M400.6 514.8h0M347.7 410.4h0M368.5 448.2h0M388.8 492.7h0M391.5 522.5h0M395.5 457.5h0M386.0 504.5h0M406.0 504.3h0M392.5 453.0h0M387.2 536.5h0M364.8 459.8h0M334.4 403.5h0M399.3 524.2h0M390.4 521.0h0M374.1 458.7h0M374.5 458.1h0M335.6 386.6h0M356.0 438.7h0M370.6 504.9h0M344.3 396.8h0M342.1 423.7h0M365.2 422.2h0M362.8 427.6h0M383.1 441.1h0M369.0 479.6h0M384.8 494.8h0M388.0 503.3h0M396.0 504.5h0M362.8 458.8h0M339.1 422.2h0M409.0 516.9h0M382.7 514.9h0M341.8 393.5h0M377.8 511.2h0M391.9 504.0h0M379.6 479.7h0M352.0 396.2h0M366.5 532.0h0M362.7 483.2h0M363.5 454.7h0M352.0 414.4h0M396.9 507.4h0M386.5 511.8h0M385.7 503.5h0M376.4 518.3h0M392.9 523.1h0M378.2 447.7h0M368.2 457.7h0M402.2 502.5h0M386.4 469.0h0M361.4 425.7h0M385.5 530.6h0M399.6 471.1h0M381.4 519.3h0M346.2 418.0h0M376.3 499.5h0M401.1 534.9h0M390.7 491.9h0M396.3 501.5h0M384.2 514.1h0M335.0 385.4h0M373.7 430.5h0M371.7 503.3h0M394.7 535.1h0M363.0 429.7h0M334.3 388.9h0M334.0 400.7h0M399.2 537.8h0M353.3 400.7h0M394.3 504.6h0M377.7 529.9h0M411.9 525.9h0M392.7 515.5h0M357.1 447.0h0M351.9 416.8h0M335.5 388.6h0M334.9 387.0h0M409.6 537.8h0M385.6 484.4h0M400.3 496.9h0M412.1 536.3h0M376.7 472.7h0M387.0 518.1h0M401.8 495.2h0M372.1 489.7h0M365.6 461.4h0M363.9 454.3h0M397.4 496.0h0M371.8 440.6h0M345.7 385.9h0M382.7 482.4h0M359.3 422.9h0M338.4 400.8h0M396.9 470.0h0M364.4 452.4h0M375.7 493.3h0M364.9 467.1h0M400.2 495.1h0M371.6 437.3h0M332.3 403.7h0M406.8 523.7h0M361.5 455.4h0M384.0 513.7h0M402.0 521.1h0M367.1 440.9h0M408.4 503.6h0M389.3 534.0h0M377.6 441.2h0M381.5 517.9h0M387.2 469.7h0M396.2 518.8h0M402.4 507.5h0M337.0 396.5h0M367.6 434.6h0M350.7 447.7h0M385.2 464.2h0M398.7 524.2h0M425.9 522.7h0M433.3 518.3h0M401.4 477.7h0M351.7 441.0h0M388.3 537.6h0M348.8 422.6h0M383.9 492.7h0M340.9 403.2h0M368.8 484.9h0M332.5 400.1h0M362.0 425.1h0M332.8 397.3h0M350.9 397.5h0M375.9 461.4h0M392.1 464.7h0M388.2 535.6h0M366.2 460.4h0M412.8 528.1h0M358.2 426.5h0M411.9 492.5h0M398.5 476.3h0M400.9 501.7h0M355.5 440.4h0M373.3 437.8h0M389.0 511.8h0M399.2 501.0h0M350.7 411.2h0M373.7 469.5h0M351.6 435.2h0M408.2 498.6h0M393.9 510.5h0M364.0 440.8h0M382.6 478.8h0M366.2 450.0h0M398.9 481.9h0M381.1 481.9h0M402.7 528.3h0M363.2 451.9h0M401.9 518.5h0M386.9 527.7h0M409.2 523.5h0M370.6 449.8h0M339.2 396.5h0M371.4 472.3h0M376.3 484.3h0M353.0 392.3h0M399.3 535.7h0M363.6 429.1h0M399.6 503.2h0M348.8 481.3h0M335.1 424.6h0M308.2 522.7h0M338.4 440.3h0M337.7 437.4h0M303.2 461.0h0M362.5 499.4h0M447.1 534.8h0M416.0 468.4h0M383.5 446.4h0M463.3 537.5h0M437.0 501.6h0M425.5 531.4h0M420.0 514.3h0M412.6 462.4h0M418.8 517.0h0M425.1 531.6h0M392.1 465.2h0M449.7 529.6h0M486.6 520.9h0M453.0 504.4h0M441.2 523.8h0M385.7 441.6h0M447.3 473.0h0M448.6 475.7h0M443.2 521.1h0M429.4 477.9h0M421.9 487.8h0M441.7 499.9h0M410.8 455.4h0M428.8 495.2h0M428.8 484.7h0M425.6 476.1h0M390.9 444.7h0M483.6 528.5h0M403.2 446.9h0M446.1 503.5h0M389.5 461.6h0M427.9 499.7h0M412.6 498.2h0M416.9 509.7h0M379.7 447.3h0M404.2 499.7h0M458.7 517.9h0M448.6 495.4h0M378.7 445.8h0M468.9 522.1h0M429.8 510.6h0M411.5 505.4h0M460.8 503.9h0M405.2 498.2h0M417.0 532.6h0M445.0 533.3h0M470.7 530.2h0M457.1 526.4h0M409.6 468.0h0M395.5 457.4h0M426.3 505.7h0M444.6 474.5h0M467.2 491.4h0M471.4 537.7h0M431.3 489.3h0M401.0 478.2h0M426.7 518.7h0M418.5 503.4h0M399.7 455.3h0M428.3 486.3h0M407.5 492.9h0M482.3 503.4h0M386.0 461.9h0M431.1 513.5h0M431.7 492.9h0M409.1 513.3h0M447.5 514.6h0M410.7 480.6h0M419.0 478.2h0M411.7 525.5h0M398.7 475.6h0M456.7 529.3h0M390.5 454.0h0M380.8 442.9h0M394.8 443.7h0M387.9 440.9h0M395.3 450.9h0M388.4 447.6h0M418.1 488.4h0M407.2 456.1h0M427.9 473.4h0M418.7 483.4h0M472.7 504.9h0M408.9 534.8h0M408.3 515.4h0M447.9 524.7h0M405.3 462.9h0M381.7 452.0h0M412.8 497.1h0M420.8 467.2h0M398.2 444.0h0M452.3 503.7h0M446.5 500.3h0M456.6 522.1h0M459.3 482.2h0M411.3 477.6h0M404.3 467.0h0M440.5 532.6h0M404.2 506.0h0M451.4 490.6h0M476.1 517.5h0M380.5 448.7h0M446.4 476.9h0M401.0 452.3h0M459.1 495.1h0M422.6 508.8h0M425.1 532.8h0M429.2 495.4h0M416.8 539.8h0M418.2 467.3h0M400.7 466.7h0M416.0 532.2h0M400.2 493.1h0M448.3 501.9h0M437.5 528.4h0M408.9 526.4h0M427.2 536.4h0M428.0 528.9h0M431.3 474.8h0M393.2 471.8h0M389.4 444.5h0M405.0 476.6h0M426.1 486.9h0M402.4 484.5h0M443.1 499.0h0M488.0 449.0h0M495.0 446.0h0M469.0 462.0h0M435.0 463.0h0"/><path stroke="#bc3c22" stroke-width="1.76" stroke-linecap="round" fill="none" d="M320.4 373.1h0M333.0 343.9h0M321.1 361.8h0M359.8 402.1h0M336.7 396.7h0M322.9 405.8h0M337.3 345.8h0M328.2 339.5h0M329.3 356.8h0M323.4 374.8h0M336.1 384.1h0M328.5 340.5h0M332.2 324.4h0M339.1 340.7h0M320.9 390.3h0M321.2 381.2h0M330.7 380.8h0M332.4 374.5h0M326.1 353.5h0M329.7 377.8h0M335.7 375.2h0M343.5 388.1h0M339.4 345.4h0M331.9 325.7h0M331.3 363.5h0M352.8 433.3h0M394.4 537.5h0M389.3 538.6h0M377.1 454.9h0M395.2 480.6h0M411.5 538.0h0M338.3 408.1h0M367.1 429.0h0M381.9 528.2h0M350.6 429.4h0M325.7 396.0h0M385.1 510.5h0M338.3 392.1h0M353.9 398.2h0M377.1 484.1h0M387.6 494.5h0M338.6 407.3h0M349.9 461.5h0M352.4 399.6h0M332.9 387.2h0M387.7 527.0h0M394.6 472.8h0M344.2 399.8h0M356.0 432.8h0M373.0 489.0h0M350.7 422.1h0M396.8 535.7h0M344.9 399.1h0M408.0 521.8h0M370.3 441.0h0M362.7 460.4h0M332.4 388.4h0M347.5 404.8h0M386.7 496.5h0M353.9 434.1h0M394.4 499.4h0M381.2 460.1h0M380.8 491.4h0M352.4 497.1h0M345.6 441.9h0M341.8 470.0h0M345.0 442.4h0M348.8 452.5h0M345.0 474.2h0M359.5 482.3h0M353.3 504.4h0M357.9 507.4h0M291.2 518.9h0M294.5 465.4h0M361.1 522.4h0M344.0 512.3h0M358.5 513.5h0M321.6 491.6h0M344.0 492.6h0M354.7 505.7h0M349.8 448.8h0M350.7 473.3h0M332.6 536.9h0M340.2 433.8h0M323.5 438.6h0M339.7 445.0h0M298.6 514.4h0M310.3 451.3h0M359.6 481.0h0M337.6 524.6h0M354.6 495.1h0M345.2 524.4h0M321.3 535.6h0M357.9 477.1h0M353.4 480.1h0M339.5 446.9h0M313.5 534.1h0M348.1 467.0h0M356.5 518.5h0M365.0 505.2h0M336.3 446.7h0M360.1 485.1h0M346.8 441.5h0M369.9 509.2h0M332.8 405.7h0M337.7 511.2h0M323.0 535.5h0M316.9 399.5h0M299.8 487.5h0M320.0 514.8h0M280.1 475.1h0M326.8 452.1h0M316.6 441.8h0M313.5 520.4h0M325.3 405.7h0M351.6 442.5h0M299.6 530.8h0M304.5 520.7h0M332.6 416.4h0M300.0 515.0h0M377.0 538.9h0M348.4 470.5h0M352.0 535.8h0M325.6 473.1h0M280.3 506.5h0M304.6 506.2h0M334.2 420.6h0M325.1 460.6h0M344.3 500.6h0M351.8 451.9h0M308.9 405.0h0M371.4 532.8h0M383.1 522.5h0M356.6 448.9h0M330.1 404.1h0M357.0 479.6h0M305.0 460.0h0M359.4 523.3h0M284.4 455.7h0M358.3 515.6h0M288.7 502.4h0M298.6 482.6h0M292.5 492.5h0M353.8 465.4h0M341.7 492.9h0M327.9 402.9h0M344.7 428.7h0M335.6 492.5h0M328.4 405.6h0M353.6 516.5h0M304.9 406.9h0M273.6 525.8h0M319.2 448.4h0M306.7 484.8h0M309.6 435.2h0M330.3 407.1h0M324.6 449.5h0M356.8 459.6h0M278.2 500.9h0M346.6 503.2h0M347.6 435.8h0M353.4 487.8h0M352.3 513.2h0M353.3 457.2h0M359.9 458.6h0M335.2 516.8h0M314.1 529.1h0M368.2 488.9h0"/><path stroke="#d48c36" stroke-width="1.76" stroke-linecap="round" fill="none" d="M336.5 327.7h0M332.2 350.1h0M356.1 404.2h0M332.8 378.1h0M345.8 369.2h0M330.1 348.6h0M334.9 331.1h0M331.6 347.0h0M339.8 366.7h0M340.1 391.3h0M317.6 378.4h0M336.8 348.1h0M314.9 397.2h0M348.8 411.6h0M344.5 385.7h0M337.2 350.9h0M332.6 339.7h0M338.8 382.4h0M328.4 341.4h0M343.0 374.2h0M332.9 334.1h0M316.4 386.4h0M332.4 324.4h0M326.4 342.4h0M329.2 387.6h0M332.8 323.3h0M329.8 398.5h0M334.0 328.9h0M328.0 342.4h0M344.2 377.3h0M339.7 349.5h0M334.4 371.3h0M319.2 368.2h0M337.0 396.6h0M323.4 382.6h0M330.6 337.1h0M321.6 391.3h0M331.5 342.4h0M331.2 330.2h0M336.2 337.3h0M350.7 388.5h0M318.1 365.8h0M332.1 352.7h0M329.4 345.6h0M309.5 388.6h0M330.0 342.4h0M312.2 404.1h0M339.1 356.9h0M326.5 345.9h0M333.6 420.5h0M363.0 423.2h0M396.1 515.2h0M357.2 448.9h0M387.3 463.0h0M384.6 479.5h0M359.1 442.0h0M403.8 515.3h0M397.5 474.7h0M399.7 483.2h0M385.4 470.2h0M384.3 445.9h0M391.9 475.7h0M365.6 477.0h0M333.1 398.2h0M339.1 409.0h0M405.7 530.0h0M391.5 461.2h0M347.4 421.2h0M366.6 512.6h0M405.3 511.5h0M405.0 535.0h0M380.7 473.2h0M339.4 389.0h0M390.7 493.6h0M330.5 390.1h0M383.6 466.6h0M394.9 525.0h0M413.2 535.5h0M397.9 486.1h0M358.0 471.5h0M410.9 530.0h0M356.6 405.3h0M381.7 467.0h0M340.2 414.0h0M400.4 523.0h0M380.2 487.2h0M373.2 480.0h0M402.0 502.6h0M346.5 434.0h0M369.0 456.2h0M351.5 421.5h0M336.7 387.8h0M410.7 531.3h0M396.3 483.2h0M349.7 407.3h0M378.3 441.8h0M390.5 500.7h0M401.4 538.9h0M401.3 479.3h0M374.6 430.6h0M417.6 535.0h0M335.5 403.4h0M394.3 527.1h0M351.6 434.7h0M330.0 395.7h0M403.0 516.0h0M358.8 446.6h0M332.5 407.5h0M378.2 457.8h0M372.4 502.0h0M372.5 468.7h0M378.3 532.1h0M395.6 503.9h0M407.7 510.6h0M356.6 397.9h0M335.4 420.1h0M341.9 421.8h0M363.5 407.8h0M391.2 524.8h0M417.3 528.8h0M402.4 528.5h0M389.7 487.3h0M387.5 459.3h0M390.9 450.0h0M353.7 444.2h0M389.9 525.8h0M330.9 385.5h0M384.8 490.1h0M387.4 518.7h0M336.9 391.2h0M348.2 389.1h0M409.1 533.8h0M355.7 433.0h0M330.2 397.7h0M350.6 392.3h0M339.9 424.3h0M379.4 439.2h0M352.8 420.3h0M370.2 452.4h0M391.0 465.6h0M361.5 425.7h0M390.2 485.9h0M393.6 509.0h0M368.3 507.5h0M370.2 442.7h0M348.2 460.5h0M357.2 432.4h0M384.6 460.0h0M394.1 486.7h0M393.3 471.2h0M410.6 524.7h0M338.3 399.9h0M406.4 529.4h0M359.5 449.3h0M393.3 485.1h0M344.1 424.6h0M344.6 395.3h0M389.1 528.4h0M383.0 484.2h0M339.9 433.2h0M341.4 397.9h0M404.4 500.1h0M397.8 477.2h0M379.4 513.3h0M344.3 407.8h0M348.1 416.1h0M369.4 518.4h0M381.5 464.3h0M408.4 536.6h0M377.3 464.3h0M334.4 409.6h0M409.5 506.1h0M324.1 405.9h0M396.6 494.4h0M339.6 419.7h0M387.3 511.9h0M334.9 386.2h0M395.4 501.5h0M389.5 444.3h0M418.2 532.3h0M357.5 430.5h0M388.7 477.7h0M375.6 470.8h0M376.8 494.5h0M376.3 486.2h0M356.2 422.9h0M325.5 455.7h0M371.2 511.1h0M323.4 498.0h0M322.3 427.4h0M326.9 444.2h0M356.4 514.7h0M339.3 445.6h0M361.4 531.2h0M344.7 497.2h0M335.3 433.1h0M351.0 523.1h0M347.7 527.6h0M343.9 458.8h0M331.9 501.4h0M312.6 449.8h0M291.9 445.6h0M328.2 433.7h0M364.7 482.3h0M358.4 506.4h0M363.1 508.2h0M332.7 539.5h0M354.4 489.6h0M334.1 468.6h0M306.1 425.5h0M319.5 501.9h0M354.2 506.5h0M337.5 440.6h0M350.9 493.3h0M373.4 526.4h0M303.9 429.6h0M371.8 534.4h0M344.5 515.3h0M349.1 462.1h0M325.1 538.5h0M347.1 450.6h0M318.5 429.4h0M346.8 521.2h0M353.4 477.8h0M370.9 500.2h0M325.5 462.2h0M353.7 529.7h0M348.2 467.0h0M435.6 474.6h0M406.6 505.8h0M393.6 447.4h0M380.3 443.8h0M450.3 476.7h0M419.3 484.3h0M473.3 515.7h0M368.8 510.6h0M324.8 433.1h0M337.0 435.2h0M304.0 432.2h0M328.2 520.2h0M330.6 433.5h0M302.3 410.8h0M304.4 438.1h0M320.5 481.6h0M309.5 434.2h0M312.6 529.0h0M329.6 402.6h0M338.8 440.6h0M320.4 420.3h0M312.2 408.1h0M315.2 435.9h0M360.3 491.2h0M365.8 531.9h0M368.7 474.8h0M287.3 452.4h0M303.1 413.6h0M274.4 497.5h0M290.7 516.8h0M332.7 471.8h0"/><path stroke="#bcae40" stroke-width="1.76" stroke-linecap="round" fill="none" d="M330.7 333.5h0M322.2 352.1h0M317.6 364.4h0M336.0 341.5h0M331.3 379.8h0M334.5 323.6h0M325.5 361.7h0M345.1 384.2h0M335.5 327.1h0M332.7 339.3h0M330.1 348.6h0M331.1 331.5h0M331.4 331.9h0M334.7 323.3h0M354.8 402.3h0M332.4 326.6h0M332.6 354.6h0M324.6 355.6h0M333.9 384.8h0M335.6 355.8h0M343.7 411.3h0M331.6 408.3h0M338.0 383.5h0M325.8 346.1h0M338.7 376.0h0M335.1 322.3h0M341.9 355.0h0M318.6 396.7h0M351.5 393.2h0M346.5 383.2h0M345.6 374.1h0M334.3 323.2h0M320.4 357.3h0M321.8 411.7h0M314.3 398.9h0M336.1 334.9h0M343.4 400.6h0M327.9 354.2h0M327.0 362.6h0M324.9 346.7h0M335.9 336.4h0M334.4 324.3h0M329.8 364.0h0M334.6 390.5h0M333.9 334.5h0M336.4 341.8h0M308.8 389.4h0M310.6 398.0h0M335.4 324.1h0M315.7 397.1h0M338.6 342.6h0M330.6 333.6h0M318.1 363.2h0M338.9 396.2h0M316.4 381.4h0M334.7 322.3h0M335.8 334.2h0M329.4 364.0h0M327.4 353.9h0M331.5 330.7h0M328.0 380.2h0M319.9 367.1h0M336.0 351.3h0M328.6 351.6h0M343.2 378.6h0M347.5 384.0h0M324.5 355.6h0M333.5 327.6h0M320.4 388.0h0M340.5 407.6h0M337.2 348.1h0M336.0 327.6h0M334.3 343.9h0M334.7 333.1h0M334.8 322.6h0M343.7 379.9h0M333.9 386.0h0M317.4 404.5h0M317.2 384.1h0M338.1 383.6h0M333.8 366.7h0M331.9 336.7h0M330.0 349.8h0M323.5 398.4h0M354.9 407.3h0M384.7 497.5h0M344.8 402.0h0M387.2 524.6h0M379.5 499.6h0M406.1 504.4h0M398.7 495.9h0M424.1 520.9h0M389.7 476.6h0M356.6 408.6h0M361.8 412.1h0M399.5 503.0h0M367.1 424.1h0M353.0 390.6h0M354.9 402.5h0M368.4 475.0h0M417.1 513.2h0M348.9 392.5h0M340.3 408.8h0M383.4 450.3h0M394.9 460.7h0M344.1 429.2h0M335.2 405.7h0M352.9 415.1h0M384.1 470.6h0M370.6 479.9h0M368.8 421.9h0M394.1 524.3h0M423.5 530.9h0M332.6 395.9h0M345.2 426.4h0M403.9 536.2h0M407.7 512.7h0M358.1 418.9h0M389.4 534.6h0M339.6 397.5h0M344.3 390.8h0M385.3 447.0h0M341.1 399.0h0M343.7 387.7h0M382.8 511.3h0M327.7 406.2h0M403.9 510.5h0M372.5 479.9h0M342.3 423.4h0M367.1 451.9h0M325.8 386.9h0M375.5 519.2h0M402.8 532.4h0M369.1 462.4h0M350.8 437.9h0M364.6 451.8h0M352.8 426.4h0M377.1 500.9h0M371.0 524.0h0M355.3 434.2h0M397.8 465.5h0M365.0 447.8h0M389.4 531.2h0M417.5 530.4h0M385.9 461.3h0M333.4 412.5h0M398.0 529.9h0M395.8 493.0h0M335.1 410.6h0M341.6 407.6h0M346.6 402.9h0M371.7 506.1h0M345.7 406.9h0M388.9 494.6h0M380.5 459.3h0M395.3 506.5h0M414.4 525.1h0M348.2 423.2h0M332.8 397.1h0M390.7 495.9h0M396.6 514.8h0M372.1 457.5h0M336.3 401.4h0M358.9 450.3h0M361.3 457.6h0M350.8 411.2h0M380.8 476.4h0M364.3 475.4h0M400.5 509.2h0M348.2 409.4h0M360.3 448.5h0M366.9 473.9h0M365.0 432.8h0M348.3 434.8h0M372.8 519.4h0M368.4 433.9h0M385.0 495.5h0M343.0 408.4h0M335.4 420.1h0M390.5 521.0h0M395.5 519.9h0M360.5 462.0h0M361.4 434.8h0M362.2 420.0h0M403.3 478.5h0M391.9 539.1h0M419.2 531.6h0M385.9 467.0h0M356.0 404.0h0M373.1 448.3h0M378.9 496.4h0M401.1 501.4h0M360.4 445.8h0M373.8 471.7h0M392.2 466.9h0M334.7 385.9h0M334.9 392.2h0M329.6 400.2h0M422.3 538.9h0M357.9 404.8h0M386.6 500.6h0M365.3 426.8h0M362.3 427.9h0M416.6 482.7h0M379.4 536.5h0M341.6 421.4h0M406.3 523.2h0M366.8 452.6h0M379.6 482.5h0M396.6 470.5h0M338.2 406.8h0M377.8 463.8h0M395.3 500.1h0M335.9 402.8h0M398.5 474.2h0M384.5 444.5h0M372.3 460.9h0M385.9 467.0h0M409.5 538.4h0M369.4 431.5h0M360.6 450.0h0M353.3 430.2h0M390.9 534.8h0M353.7 435.6h0M380.1 520.2h0M395.5 468.6h0M349.5 419.3h0M335.6 393.8h0M347.7 385.7h0M387.2 530.2h0M392.4 481.0h0M392.4 470.9h0M388.1 456.3h0M365.8 477.6h0M353.4 425.6h0M404.7 514.6h0M357.3 398.1h0M391.6 534.3h0M333.9 390.0h0M382.6 470.4h0M345.3 405.3h0M389.0 471.3h0M361.9 428.1h0M369.9 425.8h0M410.5 513.5h0M383.8 516.0h0M365.9 453.6h0M338.6 385.4h0M377.5 451.5h0M387.9 469.2h0M401.8 479.1h0M462.5 521.0h0M427.8 458.8h0M409.5 481.2h0M431.8 473.0h0M442.2 482.9h0M446.6 526.9h0M416.5 528.6h0M400.4 484.6h0M415.6 460.6h0M403.6 462.4h0M390.2 460.5h0M428.5 533.7h0M447.6 499.9h0M403.1 484.6h0M421.2 456.4h0M439.4 486.9h0M399.1 450.1h0M425.9 527.4h0M389.8 469.3h0M440.5 486.5h0M411.9 478.1h0M410.1 482.7h0M421.2 515.3h0M376.3 442.1h0M426.7 489.2h0M403.9 486.4h0M410.2 520.1h0M404.7 507.6h0M416.0 489.5h0M438.1 494.5h0M433.9 534.8h0M416.5 462.1h0M408.9 503.6h0M430.2 468.3h0M419.4 528.8h0M389.0 461.6h0M424.4 513.3h0M462.0 537.4h0M422.0 489.5h0M399.1 468.3h0M411.3 538.2h0M418.5 457.5h0M409.4 527.1h0M461.5 488.9h0M411.4 475.1h0M420.8 530.3h0M390.3 462.0h0M432.4 519.7h0M412.6 471.2h0M426.1 513.9h0M439.0 481.7h0M377.2 442.7h0M420.1 517.6h0M414.6 531.2h0M415.1 495.7h0M440.5 512.6h0M425.3 490.6h0M412.6 522.6h0M417.6 492.1h0M423.4 476.8h0M398.4 448.2h0M428.7 459.8h0M413.0 524.3h0M391.5 465.0h0M381.6 449.0h0M438.1 507.2h0M424.8 482.5h0M423.9 465.8h0M409.9 498.3h0M403.7 510.5h0M425.9 476.3h0M439.2 514.8h0M438.4 493.0h0M419.1 482.1h0M437.9 480.8h0M409.9 480.7h0M406.9 494.4h0M396.8 458.1h0M413.2 455.9h0M473.3 503.8h0M437.8 520.3h0M410.0 531.0h0M396.8 477.7h0M393.3 466.5h0M384.8 449.5h0M393.4 470.9h0M426.8 466.2h0M441.3 478.4h0M444.8 514.6h0M411.4 530.9h0M405.5 515.3h0M413.9 487.8h0M411.0 531.8h0M385.2 447.9h0M384.8 447.5h0M393.5 443.3h0M463.6 494.9h0M432.1 516.8h0M430.6 471.9h0M407.4 523.9h0M399.5 491.9h0M458.4 537.3h0"/><path stroke="#cab842" stroke-width="1.76" stroke-linecap="round" fill="none" d="M331.5 346.5h0M349.1 409.8h0M325.7 350.9h0M328.9 363.8h0M332.3 386.6h0M330.5 369.2h0M313.9 389.7h0M339.4 351.3h0M336.0 333.7h0M331.8 337.2h0M330.9 333.8h0M342.1 378.0h0M346.3 398.8h0M328.7 384.5h0M349.2 390.3h0M324.0 374.0h0M360.3 412.0h0M312.5 387.0h0M333.2 322.6h0M347.2 376.7h0M334.4 324.7h0M335.3 335.0h0M339.4 344.0h0M332.6 332.0h0M336.4 392.7h0M333.3 336.1h0M322.1 382.9h0M326.8 354.8h0M335.0 326.8h0M333.0 345.8h0M335.5 341.6h0M329.3 366.6h0M332.0 331.2h0M332.8 326.7h0M318.6 378.6h0M337.2 336.6h0M343.8 369.9h0M316.9 394.9h0M338.7 379.7h0M330.7 360.3h0M335.6 356.5h0M333.1 356.4h0M325.5 386.2h0M331.3 360.1h0M335.9 372.8h0M338.0 364.0h0M315.5 383.9h0M308.9 391.3h0M337.2 359.3h0M335.0 323.3h0M325.9 391.8h0M330.5 350.2h0M331.2 393.6h0M325.9 397.2h0M331.2 336.6h0M332.7 336.5h0M345.1 369.8h0M330.1 375.3h0M353.8 392.2h0M335.5 345.8h0M332.8 387.1h0M345.5 376.9h0M354.7 400.2h0M341.7 404.8h0M335.4 323.1h0M343.4 382.2h0M333.6 327.6h0M333.0 323.0h0M322.0 357.5h0M330.1 371.8h0M338.9 345.7h0M337.9 342.3h0M313.4 406.6h0M332.3 332.3h0M332.0 384.1h0M413.0 527.4h0M390.5 459.1h0M331.7 411.8h0M333.9 395.6h0M390.1 472.9h0M351.0 438.0h0M375.2 483.9h0M331.9 395.4h0M396.7 502.4h0M393.1 530.4h0M372.0 475.0h0M359.7 409.3h0M359.4 455.1h0M337.8 399.7h0M404.4 523.7h0M421.5 536.1h0M335.9 396.1h0M373.5 491.7h0M348.7 415.9h0M376.0 439.0h0M409.1 502.3h0M346.4 420.5h0M402.8 521.7h0M379.1 445.4h0M345.4 388.2h0M396.0 490.9h0M416.8 533.0h0M401.2 520.3h0M386.6 510.7h0M350.9 427.2h0M370.3 470.7h0M358.5 458.0h0M365.3 450.2h0M341.9 408.8h0M338.1 408.9h0M381.8 447.7h0M366.5 418.6h0M386.6 488.9h0M336.4 397.2h0M351.1 404.3h0M403.0 531.7h0M336.8 428.9h0M351.8 410.3h0M361.8 447.8h0M396.1 464.0h0M419.1 504.3h0M332.3 405.2h0M359.8 417.5h0M345.0 427.7h0M375.4 495.7h0M374.4 450.5h0M342.1 413.6h0M406.3 507.5h0M380.5 478.6h0M388.9 459.0h0M364.9 446.5h0M375.1 476.4h0M360.0 430.8h0M341.7 404.1h0M345.8 417.5h0M365.0 446.3h0M398.4 475.6h0M403.7 506.0h0M385.6 516.9h0M372.5 437.0h0M412.0 524.2h0M362.8 474.0h0M354.9 454.7h0M374.6 486.0h0M397.7 504.2h0M396.9 532.4h0M357.9 452.7h0M358.7 459.8h0M356.3 444.4h0M373.1 424.5h0M356.3 403.2h0M355.6 431.3h0M385.2 499.5h0M361.3 412.0h0M374.7 460.7h0M400.5 479.6h0M352.4 404.1h0M334.2 399.9h0M343.7 403.2h0M387.5 513.6h0M353.0 421.6h0M363.7 418.3h0M361.7 446.7h0M337.3 410.2h0M352.9 416.9h0M348.8 417.0h0M356.7 441.5h0M405.5 533.8h0M404.3 494.7h0M366.3 441.1h0M404.2 534.1h0M384.3 536.2h0M340.4 392.4h0M352.6 413.6h0M357.1 438.8h0M331.3 408.7h0M396.2 493.7h0M375.6 534.6h0M378.6 507.7h0M392.2 463.9h0M378.5 502.1h0M358.0 443.0h0M350.4 387.6h0M387.3 504.8h0M400.5 526.6h0M355.1 416.5h0M408.2 520.4h0M399.4 528.5h0M385.4 468.2h0M356.8 435.1h0M393.0 512.0h0M327.7 390.1h0M362.6 430.3h0M343.9 418.3h0M402.2 486.5h0M365.6 424.2h0M398.3 524.9h0M369.5 460.1h0M358.2 465.3h0M365.5 431.3h0M393.3 469.5h0M356.5 419.1h0M375.1 444.7h0M386.5 459.0h0M410.8 508.2h0M408.2 519.3h0M380.7 481.6h0M398.3 508.4h0M379.1 469.6h0M404.7 531.1h0M345.9 429.5h0M354.2 402.0h0M366.0 463.2h0M404.4 518.0h0M374.6 436.8h0M384.6 444.0h0M450.9 484.6h0M441.7 534.7h0M473.1 513.4h0M443.7 471.0h0M398.0 484.2h0M415.3 470.0h0M443.7 497.3h0M382.7 443.5h0M389.8 449.7h0M396.6 455.4h0M410.4 484.1h0M451.7 480.2h0M434.0 500.4h0M425.6 535.5h0M421.0 503.5h0M431.1 494.6h0M394.4 460.0h0M439.2 533.4h0M480.9 524.1h0M410.6 460.6h0M431.9 504.2h0M393.9 457.5h0M436.6 512.8h0M438.3 482.6h0M486.0 505.8h0M483.9 505.2h0M448.3 520.9h0M398.8 475.2h0M399.7 457.7h0M447.4 515.6h0M388.9 451.6h0M426.5 471.4h0M386.3 451.9h0M406.8 461.4h0M422.4 482.9h0M478.9 508.9h0M430.4 502.7h0M397.8 472.8h0M421.0 520.5h0M404.7 514.8h0M387.6 440.4h0M471.2 525.7h0M400.8 449.2h0M391.1 460.0h0M438.2 517.7h0M384.9 444.5h0M436.5 469.5h0M384.7 449.7h0M393.1 476.6h0M392.6 451.6h0M400.0 469.6h0M409.3 496.4h0M438.0 521.2h0M451.0 502.4h0M397.5 475.2h0M425.0 516.8h0M453.9 517.4h0M405.7 462.5h0M417.1 511.7h0M443.4 527.6h0M407.4 514.4h0M412.3 458.0h0M382.3 441.6h0M400.5 446.9h0M410.0 521.3h0M391.0 464.0h0M475.0 492.2h0M397.1 460.8h0M390.7 464.8h0M413.4 465.5h0M423.8 495.5h0M495.6 539.9h0M446.4 496.2h0M427.1 517.4h0M383.4 442.9h0M409.1 451.3h0M392.8 440.9h0M382.0 441.7h0M395.1 469.8h0M462.2 534.2h0M400.3 447.5h0M429.5 498.0h0M423.0 503.8h0M407.5 502.4h0M459.7 492.1h0M409.7 487.8h0M420.9 528.5h0M417.9 486.5h0M390.0 444.9h0M383.7 455.3h0M413.4 515.8h0M455.0 530.6h0M412.2 506.1h0M434.9 513.2h0M424.0 516.5h0M437.4 510.5h0M434.7 481.0h0M417.9 536.0h0M407.4 451.7h0M410.5 505.1h0M412.6 478.6h0M451.8 522.0h0M446.5 496.2h0M410.5 470.1h0M457.7 489.8h0M407.6 456.9h0M387.1 443.5h0M437.2 489.9h0M455.9 481.1h0M442.1 494.4h0M400.6 470.4h0M404.7 472.8h0M427.1 498.1h0M475.3 511.9h0M455.4 526.2h0M413.4 473.1h0M482.1 522.1h0"/><path stroke="#c4b03c" stroke-width="1.76" stroke-linecap="round" fill="none" d="M346.1 398.8h0M334.8 350.2h0M329.5 336.4h0M333.8 324.9h0M335.5 324.1h0M319.7 368.3h0M333.6 337.4h0M316.0 386.8h0M319.6 395.8h0M321.9 399.8h0M328.5 337.4h0M334.7 356.8h0M331.4 333.8h0M323.1 405.1h0M311.6 395.2h0M324.5 360.2h0M325.1 394.6h0M329.9 339.4h0M355.6 404.9h0M324.8 373.4h0M328.5 337.0h0M318.0 364.2h0M333.8 322.4h0M320.3 396.2h0M337.7 390.4h0M341.7 366.2h0M330.0 396.4h0M344.5 389.1h0M333.7 335.4h0M321.8 355.2h0M325.6 351.1h0M327.7 357.2h0M334.5 330.4h0M347.5 388.8h0M329.8 408.9h0M322.6 380.2h0M337.3 352.5h0M342.3 357.4h0M335.6 400.5h0M336.3 326.2h0M312.8 384.4h0M335.5 342.6h0M336.1 358.0h0M339.9 380.5h0M333.1 325.5h0M363.1 409.0h0M334.9 385.1h0M344.0 388.5h0M334.9 325.9h0M306.8 396.8h0M339.7 375.3h0M311.9 379.7h0M352.5 391.7h0M328.0 363.8h0M314.2 395.6h0M327.4 370.3h0M335.0 332.5h0M330.5 395.3h0M339.0 405.5h0M341.9 354.7h0M322.5 352.2h0M342.1 377.9h0M333.7 324.0h0M329.4 355.0h0M324.1 378.1h0M336.0 362.8h0M334.4 322.1h0M329.7 338.3h0M338.6 378.6h0M337.4 340.8h0M333.0 326.7h0M317.7 364.7h0M317.0 370.0h0M332.9 327.0h0M417.7 533.2h0M382.4 492.8h0M385.1 515.7h0M382.5 444.0h0M384.0 513.7h0M394.1 509.1h0M367.6 449.4h0M420.0 504.9h0M398.4 535.8h0M349.1 436.9h0M347.1 434.2h0M374.4 466.0h0M398.4 506.4h0M364.8 449.3h0M382.2 474.3h0M350.8 450.5h0M354.6 441.6h0M376.5 447.2h0M368.2 447.6h0M350.0 413.8h0M384.9 450.2h0M380.9 498.9h0M376.4 475.4h0M334.6 403.3h0M395.6 463.9h0M387.9 524.3h0M332.3 394.9h0M372.0 438.2h0M374.1 508.4h0M403.0 507.2h0M369.2 436.9h0M375.2 464.3h0M346.5 418.2h0M353.5 413.6h0M376.7 509.0h0M355.7 423.6h0M415.1 496.7h0M384.3 487.0h0M375.0 471.6h0M378.0 479.2h0M331.9 391.8h0M381.6 478.1h0M345.4 412.6h0M365.7 446.7h0M347.1 392.6h0M388.7 485.9h0M361.2 428.5h0M393.6 536.3h0M355.8 459.7h0M348.5 444.2h0M405.7 536.9h0M400.7 475.2h0M384.9 465.9h0M334.3 405.6h0M391.8 521.4h0M402.2 492.1h0M392.1 525.4h0M384.6 530.1h0M383.9 471.8h0M326.3 394.5h0M375.7 522.5h0M386.4 447.3h0M406.2 503.5h0M424.2 528.3h0M393.9 514.7h0M409.4 508.0h0M388.3 507.2h0M418.0 537.1h0M376.4 523.6h0M359.3 450.8h0M403.7 499.5h0M387.2 533.5h0M338.7 387.5h0M339.4 402.4h0M336.3 411.3h0M375.9 493.2h0M396.6 510.2h0M394.7 500.5h0M384.6 484.9h0M363.5 454.2h0M350.2 406.6h0M369.1 519.4h0M390.2 470.4h0M352.0 420.1h0M360.0 417.1h0M382.7 489.4h0M396.0 495.6h0M338.3 394.4h0M329.1 385.8h0M341.3 399.9h0M388.2 458.9h0M378.7 494.4h0M355.6 416.9h0M417.4 525.4h0M377.4 441.6h0M408.5 523.0h0M361.5 453.1h0M381.9 484.8h0M349.1 396.4h0M405.6 517.7h0M401.6 468.6h0M367.4 451.6h0M415.8 480.3h0M385.2 480.0h0M377.0 497.7h0M402.0 534.8h0M342.9 424.7h0M365.5 496.9h0M374.1 435.6h0M399.5 486.9h0M383.5 458.3h0M397.1 521.8h0M334.3 398.5h0M361.0 416.5h0M385.5 460.0h0M386.1 489.7h0M381.0 487.5h0M391.4 461.4h0M418.6 523.7h0M411.1 486.5h0M360.2 467.7h0M388.0 453.2h0M405.9 504.1h0M365.0 516.2h0M412.8 535.7h0M390.0 471.0h0M352.5 447.9h0M400.5 523.5h0M360.3 459.7h0M328.2 393.2h0M355.7 411.9h0M358.7 441.7h0M390.2 523.7h0M352.5 414.7h0M379.5 443.2h0M402.9 499.0h0M345.7 420.3h0M363.5 438.5h0M346.0 416.0h0M365.2 469.9h0M345.6 418.4h0M337.8 395.3h0M402.9 528.9h0M397.1 472.8h0M364.4 448.5h0M397.0 537.0h0M383.0 465.0h0M392.5 520.4h0M387.9 522.7h0M329.4 403.4h0M350.1 398.8h0M370.9 526.9h0M369.6 448.4h0M360.3 455.3h0M394.7 482.5h0M403.4 488.3h0M341.6 385.3h0M398.2 490.3h0M453.5 484.2h0M383.6 444.6h0M426.9 457.7h0M408.2 528.6h0M412.7 466.5h0M449.7 502.6h0M432.8 473.6h0M468.1 499.9h0M475.4 495.5h0M417.6 472.2h0M410.9 529.2h0M402.2 486.0h0M432.2 503.7h0M451.7 488.8h0M451.0 486.6h0M484.3 526.2h0M458.5 532.1h0M412.1 458.7h0M418.2 469.6h0M449.6 531.5h0M480.7 516.4h0M438.4 528.1h0M381.1 440.4h0M411.5 479.8h0M438.5 518.5h0M382.7 451.7h0M401.7 465.5h0M375.4 440.8h0M420.3 517.8h0M427.8 505.6h0M394.0 450.0h0M400.5 480.5h0M389.0 464.1h0M459.0 510.5h0M439.0 468.5h0M382.2 450.9h0M437.1 509.6h0M410.9 520.8h0M437.4 526.4h0M420.9 495.4h0M417.0 497.5h0M427.3 539.9h0M442.1 509.4h0M425.1 480.6h0M439.0 510.9h0M380.7 443.2h0M441.1 508.5h0M439.6 514.2h0M439.6 536.5h0M448.6 498.9h0M439.1 514.0h0M487.2 513.5h0M418.4 464.9h0M395.4 460.7h0M411.1 536.9h0M392.2 461.7h0M399.1 488.3h0M455.8 537.8h0M481.9 516.5h0M418.6 527.3h0M394.3 453.8h0M438.7 500.5h0M403.1 482.3h0M455.7 510.6h0M412.6 514.3h0M406.5 451.2h0M478.9 537.8h0M408.3 450.6h0M421.1 455.4h0M420.4 514.1h0M396.4 460.0h0M447.7 538.8h0M447.3 468.6h0M381.3 453.1h0M477.1 528.7h0M425.2 539.5h0M391.5 467.7h0M467.7 526.0h0M479.1 502.8h0M399.8 461.6h0M395.1 449.4h0M402.2 465.0h0M399.8 448.9h0M408.5 538.6h0M473.3 502.6h0M417.5 471.4h0M411.0 450.8h0M409.1 533.1h0M447.7 468.7h0M468.0 524.2h0M407.6 519.7h0M404.6 463.1h0M414.2 488.5h0M400.2 443.1h0M437.5 487.2h0M411.2 529.8h0M473.8 512.6h0M449.2 472.0h0M392.1 459.7h0M412.9 460.2h0M426.3 459.7h0M431.0 459.3h0M430.0 489.5h0M392.2 460.8h0M421.8 491.5h0M427.2 474.0h0M402.5 462.5h0M407.8 517.1h0M436.4 468.2h0M404.0 498.4h0M425.0 536.6h0M414.3 483.5h0M429.4 470.6h0M428.2 488.0h0M421.4 479.9h0"/><path stroke="#d4802f" stroke-width="1.76" stroke-linecap="round" fill="none" d="M316.6 377.1h0M331.2 332.2h0M325.1 388.9h0M324.1 358.9h0M342.7 403.9h0M313.4 391.7h0M332.6 360.0h0M327.3 353.8h0M329.0 336.8h0M347.9 377.4h0M334.6 329.6h0M313.3 391.9h0M336.3 347.8h0M300.9 411.2h0M340.9 354.9h0M309.1 387.3h0M344.4 379.2h0M350.4 383.8h0M357.5 405.9h0M324.5 365.1h0M327.2 367.1h0M351.6 388.1h0M342.0 403.2h0M335.6 346.3h0M338.9 342.4h0M334.0 372.0h0M329.7 334.9h0M330.0 331.3h0M311.1 391.4h0M310.6 384.0h0M349.5 386.9h0M325.0 344.6h0M323.1 385.2h0M335.7 370.1h0M334.2 325.7h0M336.4 327.8h0M344.7 399.2h0M333.1 322.5h0M350.8 410.5h0M341.5 356.2h0M330.2 344.9h0M314.4 394.6h0M345.3 409.2h0M338.7 364.7h0M350.6 432.8h0M341.2 395.2h0M381.5 506.4h0M363.5 438.1h0M387.6 484.4h0M411.1 539.4h0M364.7 432.7h0M391.0 484.1h0M364.6 450.9h0M343.9 428.5h0M362.8 437.0h0M380.5 521.8h0M360.0 457.4h0M380.9 429.1h0M383.9 484.5h0M385.0 523.1h0M363.0 444.9h0M394.8 533.3h0M352.0 427.4h0M384.6 532.2h0M332.2 402.2h0M373.1 457.0h0M405.9 527.7h0M414.4 497.8h0M387.4 497.1h0M342.6 387.5h0M370.5 508.3h0M368.8 474.1h0M332.7 407.5h0M378.0 452.1h0M367.6 474.7h0M358.0 407.3h0M372.1 508.4h0M390.7 490.5h0M366.8 453.6h0M352.4 391.2h0M367.7 459.2h0M329.3 388.1h0M336.8 407.5h0M377.1 477.2h0M407.1 531.4h0M332.5 400.8h0M346.5 429.1h0M369.1 463.2h0M406.3 527.3h0M348.1 429.4h0M386.8 530.3h0M324.6 394.6h0M396.1 511.6h0M353.1 419.2h0M389.4 480.1h0M381.0 520.6h0M351.6 442.9h0M384.7 486.5h0M354.4 407.8h0M396.3 524.9h0M341.8 424.3h0M343.4 414.0h0M349.3 393.9h0M354.7 428.7h0M351.8 395.0h0M387.2 487.8h0M398.2 510.9h0M408.1 509.1h0M402.6 528.5h0M336.7 397.1h0M399.6 490.8h0M375.8 451.3h0M358.3 418.1h0M391.1 475.7h0M411.9 537.5h0M427.7 536.0h0M411.1 498.0h0M373.2 513.2h0M344.9 402.9h0M362.9 455.7h0M336.9 406.2h0M374.7 437.5h0M324.7 386.1h0M353.9 443.7h0M394.4 500.6h0M372.9 481.1h0M405.8 521.8h0M365.5 480.4h0M341.2 420.4h0M363.4 425.3h0M396.9 535.8h0M340.1 406.9h0M363.9 478.0h0M374.6 433.7h0M347.7 420.3h0M403.0 476.1h0M357.6 427.6h0M388.5 458.0h0M397.2 531.3h0M385.5 491.5h0M376.3 515.6h0M389.1 527.4h0M367.7 444.6h0M348.0 416.7h0M341.5 414.5h0M370.0 473.6h0M347.5 433.1h0M373.5 457.9h0M375.7 477.0h0M344.2 402.7h0M388.9 535.9h0M399.3 532.7h0M355.3 460.4h0M369.5 535.0h0M379.0 478.0h0M392.6 537.8h0M344.3 389.6h0M388.4 535.3h0M343.7 407.6h0M354.5 403.9h0M363.4 430.8h0M368.4 450.1h0M337.8 388.2h0M353.5 427.5h0M381.6 459.7h0M408.3 501.7h0M388.2 498.5h0M393.7 535.5h0M334.5 412.9h0M334.8 400.0h0M390.8 487.1h0M371.1 429.1h0M365.9 436.6h0M356.9 412.2h0M405.3 534.6h0M345.5 425.9h0M400.5 514.0h0M338.3 395.3h0M324.9 389.3h0M394.6 520.3h0M368.4 438.5h0M368.3 439.1h0M357.9 423.8h0M334.3 387.0h0M367.2 464.3h0M377.7 523.8h0M396.6 520.3h0M396.4 485.7h0M386.5 538.0h0M388.8 483.4h0M393.2 484.9h0M380.7 467.5h0M375.4 458.4h0M424.7 538.4h0M409.4 536.9h0M292.5 426.2h0M361.9 495.1h0M295.4 507.6h0M332.8 452.2h0M347.6 451.0h0M301.6 456.0h0M327.1 480.7h0M345.4 444.3h0M348.2 502.0h0M348.7 493.7h0M340.2 468.6h0M341.5 519.2h0M344.0 491.8h0M348.1 535.1h0M314.9 447.6h0M303.6 464.2h0M314.0 434.8h0M339.4 452.2h0M329.8 507.0h0M346.3 506.5h0M324.1 480.3h0M360.5 518.2h0M351.9 508.8h0M322.4 472.4h0M351.6 504.7h0M317.9 496.9h0M319.9 421.7h0M368.8 517.3h0M332.1 429.1h0M363.0 504.7h0M327.2 501.6h0M332.6 421.6h0M359.8 525.5h0M370.4 539.4h0M346.9 536.1h0M367.5 511.9h0M363.5 494.0h0M361.5 482.5h0M346.6 489.9h0M417.1 472.6h0M385.7 444.3h0M456.3 479.6h0M426.0 527.8h0M433.5 537.9h0M416.0 454.7h0M411.0 512.2h0M388.0 460.5h0M407.6 473.1h0M323.3 507.8h0M350.0 510.9h0M364.2 511.9h0M319.5 419.2h0M374.1 530.1h0M317.6 399.8h0M338.4 463.6h0M313.9 478.7h0M342.2 483.0h0M319.5 416.4h0M318.3 440.4h0M340.8 489.2h0M366.7 507.6h0M326.3 457.7h0M319.7 414.4h0M326.7 465.4h0M318.8 420.2h0M315.9 402.3h0M295.2 476.3h0M330.9 468.6h0M288.3 464.6h0M335.7 412.2h0M338.1 439.9h0M329.9 403.9h0"/><path stroke="#98b850" stroke-width="1.76" stroke-linecap="round" fill="none" d="M318.3 392.3h0M320.3 409.9h0M326.2 354.9h0M315.8 387.5h0M323.8 398.5h0M334.4 322.8h0M335.6 323.3h0M329.8 332.6h0M339.0 356.3h0M334.7 325.1h0M329.7 346.1h0M335.6 386.6h0M313.2 392.7h0M326.9 354.4h0M314.0 374.4h0M332.7 328.7h0M335.0 325.1h0M329.3 397.8h0M332.2 335.0h0M333.6 388.6h0M338.3 354.9h0M337.8 349.0h0M322.6 401.3h0M335.0 338.8h0M333.9 333.6h0M333.3 323.5h0M311.3 382.4h0M389.6 534.3h0M363.9 446.2h0M341.2 410.3h0M392.7 502.3h0M340.9 414.2h0M387.7 496.8h0M380.7 479.5h0M366.4 460.1h0M377.2 469.8h0M388.8 466.4h0M385.1 458.2h0M399.6 492.2h0M381.3 499.8h0M387.4 526.0h0M364.3 444.4h0M341.7 405.2h0M376.6 467.5h0M350.5 391.3h0M358.6 410.7h0M429.2 531.6h0M376.0 465.7h0M331.8 399.7h0M389.6 512.3h0M417.4 489.5h0M389.2 467.7h0M383.8 490.8h0M392.9 532.4h0M367.5 435.3h0M408.9 523.3h0M345.5 398.9h0M363.1 412.1h0M394.9 515.9h0M342.3 395.8h0M352.8 423.6h0M380.5 480.5h0M379.3 463.3h0M369.9 433.5h0M391.9 458.8h0M362.2 422.6h0M378.2 455.4h0M422.5 518.3h0M396.0 449.6h0M489.8 534.6h0M396.7 477.9h0M433.3 473.1h0M423.5 461.9h0M388.9 458.3h0M399.2 476.0h0M457.8 530.1h0M385.1 443.1h0M469.8 527.8h0M409.9 526.9h0M407.6 528.9h0M399.2 462.6h0M418.2 459.5h0M388.2 447.6h0M436.2 527.8h0M412.5 492.3h0M477.5 504.6h0M409.4 512.3h0M418.7 455.6h0"/><path stroke="#2e62a8" stroke-width="1.76" stroke-linecap="round" fill="none" d="M331.4 370.9h0M336.4 326.8h0M352.0 388.8h0M350.3 400.3h0M344.4 363.2h0M352.1 400.4h0M325.3 373.2h0M342.8 383.5h0M333.3 327.4h0M354.5 403.7h0M343.9 367.5h0M355.2 393.0h0M316.0 402.8h0M324.5 348.2h0M345.5 403.2h0M341.3 367.5h0M335.9 328.1h0M339.8 401.1h0M402.5 512.6h0M342.3 387.0h0M385.0 442.1h0M399.4 513.5h0M376.7 482.8h0M399.3 493.3h0M375.5 449.2h0M401.0 506.2h0M397.8 501.5h0M359.1 440.0h0M371.4 421.7h0M380.5 507.9h0M381.6 463.1h0M352.2 442.5h0M402.1 483.7h0M342.6 387.8h0M375.2 437.6h0M350.2 418.0h0M368.1 442.4h0M385.2 493.6h0M383.3 502.2h0M365.3 425.3h0M363.2 460.1h0M348.8 417.1h0M391.7 528.3h0M364.8 433.8h0M410.7 500.9h0M384.2 497.0h0M380.6 477.3h0M342.8 423.7h0M341.2 406.4h0M397.3 523.4h0M363.4 482.7h0M398.1 511.1h0M391.9 532.0h0M351.7 436.1h0M377.7 424.9h0M384.8 523.8h0M354.2 463.9h0M334.6 393.5h0M405.1 526.2h0M373.3 459.4h0M359.9 425.9h0M346.0 402.3h0M354.9 466.8h0M390.8 522.9h0M378.2 520.8h0M451.6 489.2h0M450.6 532.4h0M458.0 520.4h0M493.3 525.6h0M414.4 471.0h0M403.6 455.3h0"/><path stroke="#d0742c" stroke-width="1.76" stroke-linecap="round" fill="none" d="M320.4 360.8h0M332.6 339.6h0M326.0 347.0h0M344.7 400.5h0M321.5 354.1h0M333.2 331.3h0M332.8 327.8h0M341.4 357.3h0M330.7 376.9h0M327.4 349.8h0M328.5 390.4h0M309.5 396.7h0M352.1 391.3h0M325.8 409.9h0M332.5 324.7h0M336.1 404.7h0M333.4 326.0h0M334.0 325.9h0M332.3 330.4h0M329.6 332.3h0M330.9 336.9h0M328.6 335.2h0M320.7 396.9h0M336.0 327.6h0M308.7 392.9h0M341.3 360.0h0M323.5 359.2h0M331.0 344.1h0M308.6 408.5h0M338.8 351.9h0M351.2 401.5h0M312.0 381.1h0M332.8 323.2h0M327.3 345.9h0M330.6 333.2h0M333.4 334.6h0M333.6 351.5h0M336.9 352.8h0M334.8 334.4h0M336.6 334.3h0M335.6 361.2h0M339.0 359.9h0M367.2 461.4h0M406.8 527.9h0M402.9 522.8h0M377.0 481.3h0M353.1 462.7h0M338.4 393.2h0M396.0 531.8h0M342.4 390.1h0M393.9 527.2h0M386.5 506.0h0M378.1 449.6h0M392.2 531.6h0M367.6 452.6h0M348.3 390.0h0M411.3 512.2h0M339.7 403.5h0M377.0 462.9h0M384.2 467.1h0M350.2 418.2h0M384.9 507.9h0M386.3 446.6h0M352.2 418.7h0M386.2 451.2h0M390.1 520.8h0M404.7 527.2h0M385.5 450.2h0M362.5 464.5h0M397.5 534.4h0M386.9 482.0h0M363.3 453.5h0M392.2 480.1h0M359.1 447.9h0M386.0 512.0h0M335.4 419.4h0M342.7 407.8h0M365.4 448.0h0M385.9 450.5h0M397.8 494.1h0M385.1 522.8h0M358.3 435.9h0M341.4 405.9h0M357.3 415.9h0M358.3 437.7h0M413.7 502.8h0M422.5 526.1h0M398.2 513.7h0M376.5 517.6h0M343.6 421.4h0M379.9 526.1h0M393.2 509.1h0M378.3 535.7h0M369.0 450.5h0M370.6 423.1h0M336.5 385.5h0M353.3 429.2h0M395.5 506.0h0M385.6 511.3h0M381.8 490.0h0M371.7 417.0h0M389.6 466.5h0M343.9 439.0h0M403.4 536.0h0M337.8 407.4h0M354.8 413.9h0M363.3 419.8h0M341.5 390.9h0M343.7 405.1h0M397.6 520.0h0M366.7 427.8h0M387.1 539.2h0M412.9 529.0h0M345.1 414.5h0M396.8 509.5h0M407.9 512.4h0M366.3 449.6h0M355.0 413.3h0M345.9 395.1h0M362.7 411.8h0M356.8 415.8h0M331.6 406.3h0M401.2 507.2h0M344.3 394.5h0M376.4 483.5h0M399.5 485.7h0M379.5 528.4h0M394.0 484.9h0M406.7 510.3h0M394.3 486.9h0M346.7 428.8h0M391.7 462.6h0M360.6 413.0h0M414.9 538.0h0M379.4 472.7h0M400.4 525.4h0M347.7 433.1h0M359.0 432.7h0M399.3 521.8h0M345.3 439.7h0M380.8 449.7h0M337.4 390.7h0M387.2 529.6h0M377.7 523.9h0M374.6 441.2h0M332.8 406.4h0M402.5 516.9h0M364.0 426.2h0M368.2 469.2h0M365.4 441.4h0M384.6 509.5h0M405.8 539.3h0M382.6 437.5h0M342.6 411.7h0M402.6 488.3h0M385.9 514.8h0M371.2 483.0h0M410.4 536.6h0M345.7 398.1h0M369.7 511.8h0M333.1 412.2h0M396.9 491.5h0M396.2 513.2h0M336.7 416.6h0M370.6 428.3h0M338.6 402.5h0M363.6 434.8h0M370.4 523.3h0M360.0 413.3h0M355.5 413.7h0M410.9 490.4h0M389.0 491.5h0M384.9 519.7h0M375.7 503.5h0M366.5 425.2h0M398.4 489.4h0M399.6 472.5h0M359.3 439.1h0M398.4 525.5h0M353.2 436.8h0M342.7 397.4h0M385.6 520.9h0M389.3 504.8h0M359.4 472.0h0M335.2 457.2h0M358.0 499.0h0M344.7 512.2h0M313.0 442.4h0M357.2 466.7h0M359.9 495.5h0M356.6 464.5h0M367.9 505.6h0M322.4 441.0h0M334.0 486.1h0M350.8 512.6h0M360.3 488.2h0M359.5 489.4h0M326.9 462.6h0M344.1 488.5h0M324.5 522.8h0M345.2 447.4h0M331.3 510.6h0M359.8 522.4h0M372.9 517.1h0M299.0 535.6h0M355.3 487.8h0M357.8 490.1h0M368.8 510.2h0M308.9 481.9h0M355.0 499.6h0M320.6 445.4h0M321.2 422.2h0M368.7 533.7h0M359.9 485.8h0M307.2 474.3h0M340.9 476.6h0M353.0 458.9h0M338.6 504.0h0M332.8 455.2h0M362.3 508.6h0M341.2 451.9h0M313.8 532.7h0M320.2 493.4h0M328.7 463.0h0M383.6 456.8h0M403.9 473.8h0M350.7 452.8h0M348.4 462.5h0M315.6 416.0h0M315.2 418.0h0M318.3 480.9h0M332.9 465.9h0M307.2 465.5h0M342.7 502.0h0M361.0 471.1h0M350.7 523.9h0M280.9 508.3h0M303.0 439.9h0M320.5 488.3h0M282.4 537.8h0M357.4 495.1h0M360.5 509.9h0M329.3 494.4h0M298.9 437.9h0M326.0 518.8h0M362.5 461.7h0"/><path stroke="#4a8cc0" stroke-width="1.76" stroke-linecap="round" fill="none" d="M332.1 326.9h0M337.7 341.3h0M335.3 349.3h0M318.6 390.9h0M338.5 357.7h0M339.2 361.4h0M343.7 368.0h0M331.1 390.3h0M327.3 390.7h0M334.3 330.0h0M333.7 328.0h0M340.6 360.7h0M338.8 363.5h0M336.6 353.3h0M336.1 332.2h0M334.9 328.5h0M338.7 343.9h0M334.3 326.0h0M335.2 325.6h0M333.2 365.1h0M347.1 380.8h0M330.7 363.9h0M347.1 401.8h0M339.7 377.7h0M346.0 380.7h0M359.1 489.9h0M374.4 436.4h0M347.1 387.7h0M376.1 466.6h0M362.4 484.0h0M377.5 513.9h0M367.6 415.3h0M392.6 520.7h0M381.9 432.5h0M359.5 427.4h0M355.1 404.3h0M348.8 396.4h0M374.1 450.2h0M372.7 489.6h0M408.2 506.1h0M354.4 442.4h0M342.9 394.1h0M360.9 490.7h0M368.1 464.9h0M394.2 461.9h0M366.3 454.6h0M338.8 390.2h0M359.2 443.5h0M362.1 410.5h0M396.4 510.0h0M357.3 406.8h0M413.7 534.9h0M371.1 484.9h0M334.7 400.7h0M393.0 502.1h0M394.6 531.0h0M356.1 419.1h0M355.8 441.1h0M344.4 420.7h0M354.3 431.4h0M324.4 389.9h0M380.9 450.9h0M345.8 410.7h0M332.8 404.7h0M375.2 491.9h0M390.4 537.6h0M346.5 418.1h0M405.9 488.2h0M394.7 517.3h0M392.7 465.8h0M359.1 419.3h0M401.0 536.1h0M425.2 485.7h0M430.5 529.1h0M413.6 489.3h0M461.3 521.4h0"/><path stroke="#c4462a" stroke-width="1.76" stroke-linecap="round" fill="none" d="M307.4 400.9h0M329.8 337.8h0M318.8 375.9h0M331.2 374.8h0M306.9 396.4h0M334.6 328.0h0M333.4 383.5h0M326.7 358.1h0M327.8 367.6h0M321.3 362.2h0M331.8 355.0h0M334.7 344.6h0M337.5 345.7h0M309.9 386.6h0M336.5 329.6h0M333.5 324.3h0M353.4 391.1h0M379.5 425.1h0M395.4 485.3h0M333.8 395.5h0M328.6 403.9h0M397.2 529.9h0M396.0 537.7h0M388.8 493.0h0M379.4 523.6h0M411.0 526.0h0M369.6 451.1h0M402.9 501.9h0M407.0 508.4h0M392.5 481.0h0M350.2 398.6h0M401.0 498.4h0M355.8 416.2h0M363.5 437.6h0M353.6 394.6h0M336.6 398.5h0M386.4 468.1h0M336.7 388.5h0M383.7 494.1h0M397.3 471.2h0M393.4 487.9h0M395.1 501.4h0M412.7 524.8h0M390.1 486.8h0M333.9 424.9h0M367.8 423.2h0M372.5 501.9h0M358.0 434.9h0M336.9 406.2h0M353.7 397.8h0M357.2 446.4h0M371.7 487.1h0M340.7 387.1h0M400.0 532.6h0M395.2 470.8h0M411.8 523.6h0M370.4 481.1h0M340.9 422.5h0M375.2 450.5h0M347.4 417.8h0M343.7 385.3h0M394.9 511.5h0M390.5 507.3h0M347.5 419.4h0M413.6 539.4h0M415.0 536.7h0M345.1 386.1h0M360.3 440.9h0M337.2 414.1h0M369.6 439.9h0M377.0 456.0h0M362.1 419.3h0M340.1 403.2h0M345.5 454.8h0M367.2 526.2h0M299.9 491.0h0M309.1 441.6h0M322.5 489.1h0M364.8 493.9h0M342.4 466.7h0M328.0 483.0h0M349.2 472.2h0M363.1 478.4h0M365.9 508.6h0M364.8 501.0h0M335.1 447.4h0M359.3 528.7h0M337.4 515.1h0M321.5 463.6h0M329.1 457.0h0M295.8 448.9h0M347.9 534.2h0M352.3 457.1h0M367.9 530.9h0M332.2 456.0h0M344.9 534.1h0M328.8 463.4h0M359.7 536.8h0M337.9 489.9h0M334.6 515.8h0M371.0 523.7h0M356.2 472.7h0M347.8 498.1h0M365.9 512.5h0M289.6 467.9h0M358.1 511.7h0M349.7 476.9h0M294.1 443.5h0M319.9 410.0h0M346.7 451.5h0M326.5 505.3h0M330.6 417.3h0M330.9 409.4h0M335.8 463.2h0M330.6 484.0h0M336.3 442.5h0M342.2 480.2h0M317.5 426.7h0M354.5 468.3h0M306.6 460.4h0M330.7 425.1h0M365.0 489.2h0M298.8 453.1h0M319.1 434.6h0M340.3 422.9h0M314.0 471.0h0M326.8 478.9h0M363.7 528.7h0M315.9 427.8h0M314.6 403.4h0M314.3 457.5h0M354.0 445.3h0M317.2 496.1h0M317.7 456.8h0M364.0 498.2h0M339.1 420.9h0M319.7 406.4h0M355.0 495.8h0M318.6 428.6h0M323.7 412.2h0M351.0 460.1h0M287.0 445.0h0M362.4 478.8h0M322.7 400.6h0M311.6 421.0h0M283.9 500.9h0M318.0 425.6h0M362.8 511.1h0M344.7 521.1h0M334.2 540.0h0M352.2 477.5h0M297.7 448.0h0M347.3 440.1h0M337.2 449.1h0M297.5 440.7h0"/><path stroke="#d8a440" stroke-width="1.76" stroke-linecap="round" fill="none" d="M329.4 336.2h0M315.5 376.9h0M315.0 403.8h0M305.6 404.4h0M336.5 330.5h0M342.3 358.8h0M348.2 387.7h0M341.6 407.8h0M325.1 352.1h0M306.9 405.4h0M329.1 333.9h0M334.7 330.2h0M325.7 349.0h0M336.4 332.2h0M310.1 384.4h0M340.5 402.7h0M335.8 327.5h0M321.8 388.8h0M332.0 343.3h0M329.3 343.0h0M334.8 329.7h0M336.8 353.0h0M327.5 339.7h0M333.2 340.0h0M337.4 340.6h0M328.9 357.7h0M362.9 435.6h0M385.2 475.3h0M370.0 477.2h0M351.0 419.0h0M362.5 466.1h0M413.6 533.9h0M365.8 508.9h0M396.7 533.3h0M335.4 399.1h0M391.8 490.8h0M379.9 474.4h0M401.0 530.2h0M359.1 428.3h0M401.3 511.2h0M401.8 491.3h0M393.0 479.0h0M391.5 489.9h0M392.9 536.9h0M337.1 385.3h0M418.5 518.8h0M376.1 538.3h0M393.8 510.0h0M421.3 537.9h0M365.2 453.1h0M398.2 505.5h0M349.5 419.9h0M384.5 480.0h0M373.7 463.0h0M350.5 415.1h0M348.2 428.1h0M388.5 477.0h0M386.5 535.4h0M349.6 394.8h0M368.1 451.8h0M329.8 407.0h0M337.8 397.9h0M392.7 495.3h0M409.8 535.6h0M393.1 489.7h0M358.5 406.0h0M410.6 515.2h0M414.4 539.4h0M383.6 524.3h0M412.5 494.1h0M396.4 495.9h0M383.9 493.7h0M385.8 489.2h0M361.8 452.5h0M340.5 385.5h0M338.2 394.6h0M357.7 492.5h0M356.9 498.6h0M370.2 508.5h0M322.7 422.6h0M317.8 493.6h0M353.3 463.7h0M365.3 493.3h0M345.2 447.2h0M369.5 522.9h0M358.0 506.4h0M367.6 524.8h0M406.7 488.8h0M417.7 538.5h0M462.5 518.7h0M435.2 508.7h0M385.7 457.3h0M445.5 531.0h0M401.6 450.0h0M397.2 454.4h0M385.3 443.3h0M424.8 471.5h0M410.0 512.4h0M423.5 493.0h0M327.5 403.3h0M317.5 403.8h0M332.2 480.5h0M293.5 493.0h0"/><path stroke="#3a74b8" stroke-width="1.76" stroke-linecap="round" fill="none" d="M326.6 369.1h0M335.4 333.8h0M334.6 377.1h0M341.7 385.3h0M333.6 358.2h0M342.3 390.1h0M338.9 345.9h0M343.8 381.5h0M334.8 326.9h0M332.7 388.7h0M334.6 323.1h0M332.4 344.8h0M342.7 360.9h0M335.0 330.4h0M347.5 405.8h0M337.0 345.9h0M331.1 345.7h0M327.0 350.1h0M399.6 489.5h0M410.9 520.1h0M385.5 526.8h0M401.8 535.0h0M380.8 457.5h0M388.9 486.1h0M408.0 523.0h0M340.3 411.4h0M343.0 389.6h0M398.0 473.3h0M326.3 385.1h0M406.9 489.3h0M391.4 482.9h0M368.1 467.2h0M400.8 508.9h0M372.5 457.2h0M407.6 487.3h0M398.3 528.3h0M392.0 504.6h0M355.0 418.6h0M342.2 386.6h0M419.0 531.6h0M344.4 408.8h0M374.0 451.5h0M337.2 397.5h0M398.2 530.7h0M387.7 536.2h0M384.6 532.7h0M390.4 502.3h0M360.6 453.7h0M371.6 475.0h0M402.6 519.3h0M397.5 500.0h0M357.9 460.3h0M338.1 395.1h0M394.3 535.3h0M390.6 499.1h0M359.4 401.5h0M381.1 531.2h0M408.0 494.3h0M325.2 410.5h0M347.7 388.1h0M346.1 406.1h0M350.3 399.7h0M370.9 467.5h0M354.8 418.5h0M344.2 392.6h0M394.0 484.5h0M378.9 473.3h0M440.5 512.6h0M387.0 445.9h0"/><path stroke="#68b0b8" stroke-width="1.76" stroke-linecap="round" fill="none" d="M332.6 351.9h0M357.3 401.4h0M360.6 407.0h0M338.1 342.1h0M334.1 333.5h0M319.4 400.0h0M317.6 404.5h0M336.3 351.9h0M342.5 377.8h0M337.1 347.8h0M336.0 330.7h0M348.3 404.3h0M344.8 396.9h0M338.2 404.9h0M372.5 469.9h0M367.4 460.0h0M384.3 476.9h0M377.3 469.0h0M346.9 396.0h0M349.7 411.5h0M355.6 446.8h0M377.7 468.2h0M386.1 456.8h0M388.3 460.4h0M385.5 528.0h0M395.4 474.8h0M336.7 385.4h0"/><path stroke="#dcb048" stroke-width="1.76" stroke-linecap="round" fill="none" d="M330.7 329.0h0M333.8 326.4h0M330.7 352.0h0M305.6 409.5h0M330.3 333.4h0M351.0 384.6h0M330.6 351.8h0M332.4 329.5h0M318.1 384.9h0M320.4 388.0h0M339.1 406.6h0M328.6 393.8h0M332.0 332.1h0M342.0 358.2h0M309.6 407.8h0M335.9 328.4h0M311.7 384.3h0M320.5 412.0h0M323.6 356.0h0M310.5 383.5h0M348.0 388.4h0M342.6 381.3h0M333.3 371.2h0M330.2 401.6h0M331.5 390.0h0M343.6 369.3h0M334.0 324.5h0M347.4 396.0h0M363.6 499.4h0M368.1 436.0h0M409.7 525.1h0M366.7 441.7h0M378.3 508.0h0M329.7 390.6h0M364.2 449.1h0M356.1 430.5h0M387.0 512.8h0M384.6 472.0h0M346.6 419.3h0M368.2 537.5h0M394.5 511.6h0M378.3 469.0h0M395.2 504.1h0M407.6 528.2h0M390.7 519.3h0M336.6 400.0h0M404.0 505.6h0M371.2 489.7h0M355.4 430.6h0M353.6 432.6h0M403.0 511.3h0M338.7 407.5h0M347.6 421.3h0M357.0 424.5h0M378.9 470.9h0M364.9 434.4h0M348.4 423.1h0M403.3 478.8h0M354.6 408.7h0M339.9 420.9h0M384.7 532.0h0M346.4 417.0h0M351.0 427.3h0M351.2 429.7h0M333.9 405.9h0M398.2 497.3h0M366.8 462.4h0M400.1 495.9h0M380.1 492.0h0M373.5 505.5h0M370.7 431.2h0M351.5 400.6h0M348.7 428.8h0M383.6 502.7h0M409.9 534.2h0M403.4 511.4h0M349.6 396.6h0M369.3 442.3h0M341.0 401.4h0M393.3 527.0h0M400.5 471.1h0M382.6 447.0h0M350.8 409.3h0M348.7 432.9h0M376.3 447.2h0M338.8 426.3h0M287.9 522.0h0M319.9 421.9h0M348.4 445.3h0M359.1 506.6h0M359.5 510.4h0M360.3 477.8h0M366.4 533.8h0M353.3 519.0h0M321.7 474.0h0M343.1 510.0h0M314.9 451.7h0M369.3 499.4h0M307.2 455.6h0M342.9 448.6h0M345.6 470.9h0M344.3 451.8h0M330.3 424.4h0M360.8 504.6h0M398.0 453.5h0M402.3 490.9h0M388.8 462.7h0M420.3 497.0h0M445.3 472.0h0M425.2 464.5h0M405.1 501.1h0M429.1 475.3h0M393.6 450.1h0M424.0 525.4h0M413.7 522.5h0M426.2 506.5h0M467.7 502.2h0M417.1 500.4h0M386.0 443.4h0M410.7 478.9h0M393.0 458.0h0M395.0 469.7h0M407.5 476.5h0M410.3 456.4h0M329.9 400.8h0M296.9 539.8h0M338.2 535.0h0M353.6 483.3h0M351.5 505.7h0M329.0 413.9h0M347.7 439.4h0"/><path stroke="#5a9cc8" stroke-width="1.76" stroke-linecap="round" fill="none" d="M349.1 398.1h0M350.9 400.7h0M328.2 404.1h0M350.5 390.9h0M332.3 379.2h0M361.9 408.8h0M334.8 344.2h0M332.3 350.3h0M339.5 368.2h0M340.7 382.6h0M351.0 405.3h0M340.8 353.3h0M335.3 326.2h0M343.0 397.0h0M343.4 373.4h0M333.0 361.0h0M336.1 397.8h0M338.8 340.4h0M387.0 509.4h0M385.0 467.5h0M416.0 527.8h0M408.0 518.7h0M357.0 418.8h0M348.1 404.5h0M337.1 414.9h0M344.8 388.3h0M336.5 398.0h0M338.3 413.6h0M408.8 530.3h0M358.7 406.2h0M393.7 539.3h0M346.7 387.5h0M409.9 537.9h0M401.0 529.7h0M376.5 468.5h0M351.2 404.7h0M353.0 409.8h0M357.7 437.1h0M340.4 424.4h0M340.8 406.7h0M405.4 482.0h0M362.9 425.0h0M394.1 529.4h0M400.3 511.9h0M366.7 473.7h0M362.1 407.3h0M390.7 502.7h0M391.6 485.1h0M338.0 394.8h0M372.8 469.4h0M398.0 464.1h0M368.9 480.6h0M362.4 434.5h0M367.0 440.4h0M357.5 435.1h0M321.5 400.0h0M350.4 448.6h0M367.5 448.1h0M396.9 500.0h0M376.0 522.6h0M359.7 409.7h0M373.7 428.6h0M338.0 416.7h0M391.4 539.5h0M345.6 428.7h0M370.3 462.5h0M337.0 392.6h0M370.6 517.3h0M372.5 478.0h0M399.1 465.2h0M379.7 514.5h0M388.1 521.7h0M359.6 417.5h0M366.2 425.1h0M390.8 490.4h0M386.8 455.4h0M387.2 502.8h0M411.9 472.5h0M430.4 509.7h0M443.4 530.2h0M411.9 510.5h0M409.6 532.1h0M447.9 525.3h0M406.0 466.4h0M411.9 536.0h0M415.1 469.1h0"/><path stroke="#5aa4b0" stroke-width="1.76" stroke-linecap="round" fill="none" d="M338.4 365.7h0M344.3 386.6h0M340.6 364.6h0M338.5 407.5h0M337.5 339.2h0M338.8 341.9h0M334.6 344.6h0M343.1 393.7h0M337.2 364.4h0M398.2 529.7h0M395.4 538.2h0M398.8 481.7h0M362.7 413.4h0M382.5 489.2h0M350.7 390.3h0M356.7 459.6h0M371.8 438.9h0M380.6 492.3h0M373.9 441.5h0M338.8 389.2h0M402.7 522.8h0M357.8 432.6h0M349.0 417.1h0M384.4 502.4h0M389.4 490.2h0M366.3 494.3h0M364.0 430.2h0M350.9 429.3h0"/><path stroke="#a8c058" stroke-width="1.76" stroke-linecap="round" fill="none" d="M332.7 378.2h0M340.9 390.3h0M334.4 325.7h0M325.1 355.4h0M336.5 347.3h0M334.0 334.7h0M339.4 369.5h0M325.5 367.7h0M335.7 324.6h0M321.0 389.8h0M326.4 345.8h0M337.1 346.4h0M334.5 332.4h0M349.0 407.8h0M321.7 361.0h0M337.3 391.3h0M334.5 329.2h0M335.3 322.1h0M320.3 387.1h0M340.5 354.3h0M329.3 344.0h0M332.3 328.7h0M339.0 376.0h0M329.8 386.4h0M340.0 385.8h0M338.4 341.2h0M373.7 469.0h0M352.0 415.0h0M388.3 528.9h0M374.4 499.4h0M381.0 439.1h0M348.2 417.0h0M345.4 430.4h0M369.6 461.3h0M354.1 424.7h0M329.4 394.6h0M349.6 444.0h0M377.3 454.4h0M342.4 420.7h0M398.8 485.5h0M369.9 476.3h0M395.9 493.0h0M384.2 484.9h0M377.9 492.5h0M353.8 402.5h0M356.4 425.1h0M377.4 448.7h0M370.8 462.0h0M394.2 498.9h0M379.5 499.6h0M400.2 509.8h0M411.9 527.2h0M379.4 515.3h0M414.8 534.8h0M349.0 439.4h0M369.5 447.6h0M388.0 469.0h0M383.5 468.4h0M364.5 433.5h0M329.5 386.1h0M380.5 501.4h0M354.5 446.2h0M348.3 431.3h0M390.1 497.4h0M353.5 405.8h0M377.4 433.8h0M389.5 527.9h0M365.0 424.6h0M370.2 424.4h0M397.5 535.9h0M360.1 442.8h0M374.2 439.8h0M397.5 468.9h0M351.7 417.6h0M389.8 490.1h0M375.0 456.1h0M325.5 389.2h0M337.7 401.1h0M337.7 389.1h0M346.3 437.2h0M363.4 408.6h0M406.4 515.1h0M394.0 526.8h0M402.4 489.5h0M406.4 523.5h0M381.6 496.6h0M372.8 442.7h0M391.6 471.2h0M436.9 538.8h0M381.4 442.0h0M462.3 507.5h0M389.5 459.5h0M469.6 537.7h0M400.7 466.4h0M380.1 445.9h0M391.8 442.5h0M401.6 450.1h0M431.1 493.9h0M402.0 462.7h0M404.5 456.3h0M390.9 443.0h0M443.5 505.1h0M435.2 468.1h0M389.6 455.3h0M467.5 509.4h0M439.7 533.1h0M410.4 459.4h0"/><path stroke="#ac341c" stroke-width="1.76" stroke-linecap="round" fill="none" d="M367.3 531.1h0M342.3 535.8h0M347.8 515.5h0M331.1 515.7h0M352.3 469.4h0M304.8 431.8h0M361.9 513.5h0M317.5 446.9h0M289.5 524.0h0M349.1 437.7h0M282.1 482.9h0M316.8 461.4h0M359.0 467.0h0M309.2 519.0h0M317.2 397.7h0M361.2 459.9h0M361.1 480.5h0M373.7 499.6h0M357.8 473.6h0M286.8 475.4h0M325.4 464.8h0M333.0 492.9h0M334.5 471.1h0M317.9 396.1h0M291.3 497.4h0M336.4 418.9h0M310.0 457.4h0M320.0 484.4h0M320.3 401.0h0M336.1 449.6h0"/><path stroke="#a02c1a" stroke-width="1.76" stroke-linecap="round" fill="none" d="M363.2 483.6h0M311.7 449.2h0M353.1 454.3h0M341.8 535.0h0M337.4 441.1h0M361.5 481.0h0M347.1 460.1h0M320.9 408.4h0M339.2 535.2h0M321.4 406.7h0M321.4 411.0h0M353.9 510.5h0M281.6 468.3h0M331.7 418.4h0M316.7 466.1h0M345.2 533.4h0M328.7 491.5h0M325.4 519.9h0M310.7 457.0h0M327.5 408.0h0M334.8 411.1h0M364.0 463.9h0M361.9 518.4h0M281.1 488.8h0M346.5 437.2h0M346.4 457.4h0M275.9 525.7h0M370.8 492.1h0"/><path d="M170 540.2h3M176 540.2h2M180 540.2h4M190 540.2h3M197 540.2h5M205 540.2h4" stroke="#c86030" stroke-width="1.4"/><defs><linearGradient id="gl2" gradientUnits="userSpaceOnUse" x1="211" y1="0" x2="498" y2="0"><stop offset="0" stop-color="#c4501e"/><stop offset="0.58" stop-color="#c4501e"/><stop offset="0.66" stop-color="#a88a30"/><stop offset="1" stop-color="#a88a30"/></linearGradient></defs><rect x="211" y="539.5" width="287" height="1.6" fill="url(#gl2)"/><rect x="288" y="314.5" width="93" height="144" fill="none" stroke="#111" stroke-width="1"/><path d="M288.1 441L332.5 320.3M336.4 320.3C339 335 341 343 342.2 350.2C344 360 346 368 349.2 376.5C352 385 355 392 358.6 397.3C362 403 364 407 367.3 410.4C371 414 375 417 380.4 419" fill="none" stroke="#3050a0" stroke-width="1.4"/><path d="M288.1 422L331.6 322M336.9 322C340 335 342 343 343.9 350.2C346 360 348 368 351 376.5C354 386 357 394 360 400C363.5 407 366 413 370.2 417.7C373 421 377 424.5 380.4 426.4" fill="none" stroke="#e82228" stroke-width="1.5"/><defs><filter id="nz1" filterUnits="userSpaceOnUse" x="154" y="38.5" width="97" height="148.5" color-interpolation-filters="sRGB"><feGaussianBlur in="SourceGraphic" stdDeviation="4" result="m"/><feTurbulence type="fractalNoise" baseFrequency="0.7" numOctaves="2" seed="7" result="t"/><feColorMatrix in="t" type="matrix" values="1 0 0 0 0 1 0 0 0 0 1 0 0 0 0 0 0 0 0 1" result="g"/><feComponentTransfer in="g"><feFuncR type="table" tableValues="0 0 0.04 0.22 0.65 1"/><feFuncG type="table" tableValues="0 0 0.04 0.22 0.65 1"/><feFuncB type="table" tableValues="0 0 0.04 0.22 0.65 1"/></feComponentTransfer><feGaussianBlur stdDeviation="0.6" result="g3"/><feComposite in="m" in2="g3" operator="arithmetic" k1="4.9" k2="0.15" k3="0" k4="0"/></filter><clipPath id="cp1"><rect x="154" y="38.5" width="97" height="148.5"/></clipPath><filter id="sb1"><feGaussianBlur stdDeviation="0.6"/></filter><linearGradient id="lg1" x1="0" y1="0" x2="1" y2="0"><stop offset="0" stop-color="#000" stop-opacity="0.75"/><stop offset="0.35" stop-color="#000" stop-opacity="0.5"/><stop offset="1" stop-color="#000" stop-opacity="0"/></linearGradient><linearGradient id="bg1" x1="0" y1="0" x2="0" y2="1"><stop offset="0" stop-color="#000" stop-opacity="0"/><stop offset="1" stop-color="#000" stop-opacity="0.4"/></linearGradient></defs><rect x="154" y="38.5" width="97" height="148.5" fill="#050505"/><g clip-path="url(#cp1)"><g filter="url(#nz1)"><rect x="154" y="38.5" width="97" height="148.5" fill="#000"/><path d="M195 45 L188 60 L181 80 L172 100 L165 120 L160 140 L156 160 L152 190 L255 190 L255 68 L225 64 L210 58 L200 50 Z" fill="#2c2c2c"/><path d="M195 48 L186 78 L180 110 L176 190 L250 190 L250 110 L232 90 L212 64 Z" fill="#3c3c3c"/><path d="M195 46 L187 70 L186 100 L224 108 L214 70 Z" fill="#5a5a5a"/><path d="M210 58 L251 63 L251 104 L218 96 Z" fill="#424242"/><path d="M195 47 L191 56 L192 72 L201 72 L199 56 Z" fill="#808080"/><rect x="150" y="95" width="45" height="95" fill="url(#lg1)"/><rect x="150" y="160" width="105" height="30" fill="url(#bg1)"/><rect x="247.5" y="38" width="8" height="150" fill="#000" opacity="0.45"/></g><path d="M195 44.3 L191 54 L195 52 L199 54.5 Z" fill="#eeeeee" filter="url(#sb1)"/><ellipse cx="203" cy="69.5" rx="2" ry="1.3" fill="#bbb" filter="url(#sb1)"/><path d="M215.6 44.5 C216 50 217.5 58 220.4 62.5 C222 65 223 67 226 67.8 C230 68 234 66.5 237 64 L240.5 61.9" fill="none" stroke="#b0b0b0" stroke-width="0.9"/><path d="M238.5 66.5 l2.5 5" stroke="#bbb" stroke-width="1.3"/><circle cx="239.3" cy="52.4" r="0.7" fill="#888"/><circle cx="245.8" cy="51.8" r="0.6" fill="#777"/><circle cx="200" cy="40.7" r="0.9" fill="#ddd"/></g><path d="M154 112.4 L194.4 41.9 C198 43.7 201.5 45.5 205 47.3 C209 49.3 213 51.3 217 53.1 C221.5 55 225.5 56.3 230 57.2 C237 58.6 244 59.6 251 60.4" fill="none" stroke="#2c4890" stroke-width="1.25" stroke-linejoin="round"/><defs><filter id="nz2" filterUnits="userSpaceOnUse" x="157.5" y="314.5" width="93.2" height="143.5" color-interpolation-filters="sRGB"><feGaussianBlur in="SourceGraphic" stdDeviation="3.5" result="m"/><feTurbulence type="fractalNoise" baseFrequency="0.7" numOctaves="2" seed="11" result="t"/><feColorMatrix in="t" type="matrix" values="1 0 0 0 0 1 0 0 0 0 1 0 0 0 0 0 0 0 0 1" result="g"/><feComponentTransfer in="g"><feFuncR type="table" tableValues="0 0 0.04 0.22 0.65 1"/><feFuncG type="table" tableValues="0 0 0.04 0.22 0.65 1"/><feFuncB type="table" tableValues="0 0 0.04 0.22 0.65 1"/></feComponentTransfer><feGaussianBlur stdDeviation="0.6" result="g3"/><feComposite in="m" in2="g3" operator="arithmetic" k1="4.9" k2="0.15" k3="0" k4="0"/></filter><clipPath id="cp2"><rect x="157.5" y="314.5" width="93.2" height="143.5"/></clipPath><linearGradient id="pg2" gradientUnits="userSpaceOnUse" x1="0" y1="320" x2="0" y2="458"><stop offset="0" stop-color="#222"/><stop offset="0.4" stop-color="#262626"/><stop offset="0.7" stop-color="#3c3c3c"/><stop offset="1" stop-color="#585858"/></linearGradient></defs><rect x="157.5" y="314.5" width="93.2" height="143.5" fill="#050505"/><g clip-path="url(#cp2)"><g filter="url(#nz2)"><rect x="157.5" y="314.5" width="93.2" height="143.5" fill="#000"/><path d="M204 321 L207 321 C212 345 218 372 231 401 C237 410 243 415 251 418.5 L251 460 L157 460 L157 442 Z" fill="url(#pg2)"/><path d="M198 380 L184 458 L238 458 L230 392 Z" fill="#8a8a8a" opacity="0.6"/><path d="M157 445 L185 400 L172 460 L157 460Z" fill="#000" opacity="0.5"/><path d="M232 415 L251 420 L251 460 L236 460 Z" fill="#000" opacity="0.35"/></g><path d="M223.5 317.6 C224.5 323 226.5 330 230 334.5 C232.5 337.5 235 339.3 239 339.3 C242 339.2 244.5 338 246.5 336" fill="none" stroke="#d4d4d4" stroke-width="1.2"/><rect x="246.3" y="326.5" width="2" height="6.5" fill="#eee"/><path d="M245.5 336.5 L246 342 L249.5 342.5 L249.5 336.5" fill="none" stroke="#ddd" stroke-width="1.2"/><circle cx="247" cy="352" r="0.6" fill="#999"/><path d="M243 317.8h4" stroke="#aaa" stroke-width="0.7"/><circle cx="239" cy="348" r="0.6" fill="#aaa"/><circle cx="207.7" cy="316.9" r="1" fill="#fff"/><path d="M205.4 320.5 L203.6 330 L205.5 328.5 L207.4 330.5 Z" fill="#cfcfcf" filter="url(#sb1)"/></g><path d="M158.4 442 L203.7 319.6 M207.1 319.6 C211 340 216 365 222 380 C226 390 228 396 231 401 C236 409 243 415 249.5 418.5" fill="none" stroke="#2d4c98" stroke-width="1.45"/></svg></body></html>
